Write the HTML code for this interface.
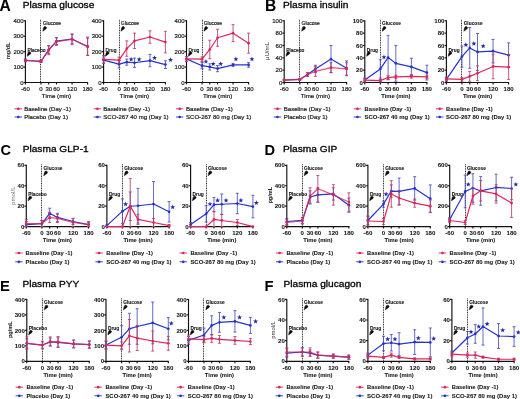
<!DOCTYPE html>
<html><head><meta charset="utf-8"><style>
html,body{margin:0;padding:0;background:#fff;}
svg{display:block;font-family:"Liberation Sans", sans-serif;filter:blur(0.42px);}
.ax{fill:none;stroke:#111;stroke-width:1.15}
.dl{stroke:#1a1a1a;stroke-width:0.9;stroke-dasharray:1 0.7}
.ar{fill:#0a0a0a;stroke:#0a0a0a;stroke-width:0.5;stroke-linejoin:round}
.tk{font-size:6.0px;fill:#1a1a1a;stroke:#1a1a1a;stroke-width:0.2}
.tm{font-size:6.2px;fill:#1a1a1a;stroke:#1a1a1a;stroke-width:0.2}
.gl{font-size:5px;fill:#111;stroke:#111;stroke-width:0.18}
.lg{font-size:6px;fill:#1a1a1a;stroke:#1a1a1a;stroke-width:0.2}
.b text{font-weight:bold;stroke-width:0.08}
.b .tk{font-size:6.1px}
.b .tm{font-size:5.8px}
.b .gl{font-size:4.8px}
.b .lg{font-size:5.8px}
.tt{font-size:10.15px;fill:#000;stroke:#000;stroke-width:0.32}
.lt{font-size:14.8px;font-weight:bold;fill:#000}
</style></head><body>
<svg width="520" height="399" viewBox="0 0 520 399">
<rect width="520" height="399" fill="#fff"/>
<text x="-0.5" y="10.6" class="lt" style="font-size:15.6px">A</text>
<text transform="translate(22.7,7.8) scale(1,0.94)" class="tt">Plasma glucose</text>
<text transform="translate(10,50.8) rotate(-90)" text-anchor="middle" font-size="5.7" font-weight="bold" fill="#222">mg/dL</text>
<g class="r">
<line x1="40.5" y1="19.8" x2="40.5" y2="82.5" class="dl"/>
<path d="M25.4 20.3V82.5H88.1" class="ax"/>
<path d="M23.6 82.5H25.4" class="ax"/>
<text x="23.5" y="84.65" class="tk" text-anchor="end">0</text>
<path d="M23.6 67.08H25.4" class="ax"/>
<text x="23.5" y="69.23" class="tk" text-anchor="end">100</text>
<path d="M23.6 51.65H25.4" class="ax"/>
<text x="23.5" y="53.8" class="tk" text-anchor="end">200</text>
<path d="M23.6 36.22H25.4" class="ax"/>
<text x="23.5" y="38.37" class="tk" text-anchor="end">300</text>
<path d="M23.6 20.8H25.4" class="ax"/>
<text x="23.5" y="22.95" class="tk" text-anchor="end">400</text>
<path d="M25.4 82.5V84.4" class="ax"/>
<text x="25.4" y="91.2" class="tk" text-anchor="middle">-60</text>
<path d="M40.95 82.5V84.4" class="ax"/>
<text x="40.95" y="91.2" class="tk" text-anchor="middle">0</text>
<path d="M48.72 82.5V84.4" class="ax"/>
<text x="48.72" y="91.2" class="tk" text-anchor="middle">30</text>
<path d="M56.5 82.5V84.4" class="ax"/>
<text x="56.5" y="91.2" class="tk" text-anchor="middle">60</text>
<path d="M72.05 82.5V84.4" class="ax"/>
<text x="72.05" y="91.2" class="tk" text-anchor="middle">120</text>
<path d="M87.6 82.5V84.4" class="ax"/>
<text x="87.6" y="91.2" class="tk" text-anchor="middle">180</text>
<text x="56.5" y="98.3" class="tm" text-anchor="middle">Time (min)</text>
<text x="42.65" y="25" class="gl">Glucose</text>
<polygon points="42.85,31.2 43.45,28.2 44.15,26.8 45.45,26.6 46.65,27.6 46.15,28.8" class="ar"/>
<text x="27.4" y="51.8" class="gl">Placebo</text>
<polygon points="27.2,56.3 27.8,53.3 28.5,51.9 29.8,51.7 31,52.7 30.5,53.9" class="ar"/>
<path d="M25.4 61.68V59.21M23.9 59.21h3M23.9 61.68h3" stroke="#4a4fb8" stroke-width="0.85" fill="none"/>
<path d="M40.95 62.45V60.6M39.45 60.6h3M39.45 62.45h3" stroke="#4a4fb8" stroke-width="0.85" fill="none"/>
<path d="M48.72 53.66V45.94M47.22 45.94h3M47.22 53.66h3" stroke="#4a4fb8" stroke-width="0.85" fill="none"/>
<path d="M56.5 44.55V37.77M55 37.77h3M55 44.55h3" stroke="#4a4fb8" stroke-width="0.85" fill="none"/>
<path d="M72.05 43.63V34.37M70.55 34.37h3M70.55 43.63h3" stroke="#4a4fb8" stroke-width="0.85" fill="none"/>
<path d="M87.6 55.2V38.23M86.1 38.23h3M86.1 55.2h3" stroke="#4a4fb8" stroke-width="0.85" fill="none"/>
<polyline points="25.4,60.44 40.95,61.52 48.72,49.8 56.5,41.16 72.05,39 87.6,46.71" fill="none" stroke="#2433d0" stroke-width="1.2" stroke-linejoin="round"/>
<circle cx="25.4" cy="60.44" r="1.35" fill="#2433d0"/>
<circle cx="40.95" cy="61.52" r="1.35" fill="#2433d0"/>
<circle cx="48.72" cy="49.8" r="1.35" fill="#2433d0"/>
<circle cx="56.5" cy="41.16" r="1.35" fill="#2433d0"/>
<circle cx="72.05" cy="39" r="1.35" fill="#2433d0"/>
<circle cx="87.6" cy="46.71" r="1.35" fill="#2433d0"/>
<path d="M25.4 61.68V59.21M23.9 59.21h3M23.9 61.68h3" stroke="#b83d66" stroke-width="0.85" fill="none"/>
<path d="M40.95 62.14V60.29M39.45 60.29h3M39.45 62.14h3" stroke="#b83d66" stroke-width="0.85" fill="none"/>
<path d="M48.72 54.73V45.48M47.22 45.48h3M47.22 54.73h3" stroke="#b83d66" stroke-width="0.85" fill="none"/>
<path d="M56.5 45.48V37.77M55 37.77h3M55 45.48h3" stroke="#b83d66" stroke-width="0.85" fill="none"/>
<path d="M72.05 44.71V33.91M70.55 33.91h3M70.55 44.71h3" stroke="#b83d66" stroke-width="0.85" fill="none"/>
<path d="M87.6 55.51V37M86.1 37h3M86.1 55.51h3" stroke="#b83d66" stroke-width="0.85" fill="none"/>
<polyline points="25.4,60.44 40.95,61.21 48.72,50.11 56.5,41.62 72.05,39.31 87.6,46.25" fill="none" stroke="#e0245a" stroke-width="1.2" stroke-linejoin="round" stroke-opacity="0.8"/>
<circle cx="25.4" cy="60.44" r="1.35" fill="#e0245a"/>
<circle cx="40.95" cy="61.21" r="1.35" fill="#e0245a"/>
<circle cx="48.72" cy="50.11" r="1.35" fill="#e0245a"/>
<circle cx="56.5" cy="41.62" r="1.35" fill="#e0245a"/>
<circle cx="72.05" cy="39.31" r="1.35" fill="#e0245a"/>
<circle cx="87.6" cy="46.25" r="1.35" fill="#e0245a"/>
<path d="M14.6 108.8h7.4" stroke="#e0245a" stroke-width="0.9"/>
<circle cx="18.3" cy="108.8" r="1.35" fill="#e0245a"/>
<text x="24.2" y="110.9" class="lg" textLength="46.8" lengthAdjust="spacingAndGlyphs">Baseline (Day -1)</text>
<path d="M14.6 117h7.4" stroke="#2433d0" stroke-width="0.9"/>
<circle cx="18.3" cy="117" r="1.35" fill="#2433d0"/>
<text x="24.2" y="119.1" class="lg" textLength="43.8" lengthAdjust="spacingAndGlyphs">Placebo (Day 1)</text>
</g>
<g class="r">
<line x1="119.5" y1="19.8" x2="119.5" y2="82.5" class="dl"/>
<path d="M103.6 20.3V82.5H165.9" class="ax"/>
<path d="M101.8 82.5H103.6" class="ax"/>
<text x="101.7" y="84.65" class="tk" text-anchor="end">0</text>
<path d="M101.8 67.08H103.6" class="ax"/>
<text x="101.7" y="69.23" class="tk" text-anchor="end">100</text>
<path d="M101.8 51.65H103.6" class="ax"/>
<text x="101.7" y="53.8" class="tk" text-anchor="end">200</text>
<path d="M101.8 36.22H103.6" class="ax"/>
<text x="101.7" y="38.37" class="tk" text-anchor="end">300</text>
<path d="M101.8 20.8H103.6" class="ax"/>
<text x="101.7" y="22.95" class="tk" text-anchor="end">400</text>
<path d="M103.6 82.5V84.4" class="ax"/>
<text x="103.6" y="91.2" class="tk" text-anchor="middle">-60</text>
<path d="M119.05 82.5V84.4" class="ax"/>
<text x="119.05" y="91.2" class="tk" text-anchor="middle">0</text>
<path d="M126.78 82.5V84.4" class="ax"/>
<text x="126.78" y="91.2" class="tk" text-anchor="middle">30</text>
<path d="M134.5 82.5V84.4" class="ax"/>
<text x="134.5" y="91.2" class="tk" text-anchor="middle">60</text>
<path d="M149.95 82.5V84.4" class="ax"/>
<text x="149.95" y="91.2" class="tk" text-anchor="middle">120</text>
<path d="M165.4 82.5V84.4" class="ax"/>
<text x="165.4" y="91.2" class="tk" text-anchor="middle">180</text>
<text x="134.5" y="98.3" class="tm" text-anchor="middle">Time (min)</text>
<text x="120.75" y="25" class="gl">Glucose</text>
<polygon points="120.95,31.2 121.55,28.2 122.25,26.8 123.55,26.6 124.75,27.6 124.25,28.8" class="ar"/>
<text x="105.6" y="51.8" class="gl">Drug</text>
<polygon points="105.4,56.3 106,53.3 106.7,51.9 108,51.7 109.2,52.7 108.7,53.9" class="ar"/>
<path d="M103.6 63.22V57.05M102.1 57.05h3M102.1 63.22h3" stroke="#4a4fb8" stroke-width="0.85" fill="none"/>
<path d="M119.05 68V60.29M117.55 60.29h3M117.55 68h3" stroke="#4a4fb8" stroke-width="0.85" fill="none"/>
<path d="M126.78 65.22V59.05M125.28 59.05h3M125.28 65.22h3" stroke="#4a4fb8" stroke-width="0.85" fill="none"/>
<path d="M134.5 67.38V58.13M133 58.13h3M133 67.38h3" stroke="#4a4fb8" stroke-width="0.85" fill="none"/>
<path d="M149.95 66.77V54.43M148.45 54.43h3M148.45 66.77h3" stroke="#4a4fb8" stroke-width="0.85" fill="none"/>
<path d="M165.4 68.46V60.75M163.9 60.75h3M163.9 68.46h3" stroke="#4a4fb8" stroke-width="0.85" fill="none"/>
<polyline points="103.6,60.13 119.05,64.14 126.78,62.14 134.5,62.76 149.95,60.6 165.4,64.61" fill="none" stroke="#2433d0" stroke-width="1.2" stroke-linejoin="round"/>
<circle cx="103.6" cy="60.13" r="1.35" fill="#2433d0"/>
<circle cx="119.05" cy="64.14" r="1.35" fill="#2433d0"/>
<circle cx="126.78" cy="62.14" r="1.35" fill="#2433d0"/>
<circle cx="134.5" cy="62.76" r="1.35" fill="#2433d0"/>
<circle cx="149.95" cy="60.6" r="1.35" fill="#2433d0"/>
<circle cx="165.4" cy="64.61" r="1.35" fill="#2433d0"/>
<path d="M103.6 63.22V55.51M102.1 55.51h3M102.1 63.22h3" stroke="#b83d66" stroke-width="0.85" fill="none"/>
<path d="M119.05 63.22V57.05M117.55 57.05h3M117.55 63.22h3" stroke="#b83d66" stroke-width="0.85" fill="none"/>
<path d="M126.78 56.28V40.85M125.28 40.85h3M125.28 56.28h3" stroke="#b83d66" stroke-width="0.85" fill="none"/>
<path d="M134.5 48.56V33.14M133 33.14h3M133 48.56h3" stroke="#b83d66" stroke-width="0.85" fill="none"/>
<path d="M149.95 43.17V30.83M148.45 30.83h3M148.45 43.17h3" stroke="#b83d66" stroke-width="0.85" fill="none"/>
<path d="M165.4 52.88V31.29M163.9 31.29h3M163.9 52.88h3" stroke="#b83d66" stroke-width="0.85" fill="none"/>
<polyline points="103.6,59.36 119.05,60.13 126.78,48.56 134.5,40.85 149.95,37 165.4,42.09" fill="none" stroke="#e0245a" stroke-width="1.2" stroke-linejoin="round"/>
<circle cx="103.6" cy="59.36" r="1.35" fill="#e0245a"/>
<circle cx="119.05" cy="60.13" r="1.35" fill="#e0245a"/>
<circle cx="126.78" cy="48.56" r="1.35" fill="#e0245a"/>
<circle cx="134.5" cy="40.85" r="1.35" fill="#e0245a"/>
<circle cx="149.95" cy="37" r="1.35" fill="#e0245a"/>
<circle cx="165.4" cy="42.09" r="1.35" fill="#e0245a"/>
<polygon points="131.15,56.76 131.79,58.48 133.63,58.56 132.19,59.7 132.68,61.47 131.15,60.45 129.62,61.47 130.11,59.7 128.68,58.56 130.51,58.48" fill="#2228a8"/>
<polygon points="139.13,56.76 139.78,58.48 141.61,58.56 140.17,59.7 140.66,61.47 139.13,60.45 137.61,61.47 138.1,59.7 136.66,58.56 138.49,58.48" fill="#2228a8"/>
<polygon points="154.59,55.22 155.23,56.94 157.06,57.02 155.62,58.16 156.11,59.92 154.59,58.91 153.06,59.92 153.55,58.16 152.11,57.02 153.94,56.94" fill="#2228a8"/>
<polygon points="170.55,57.23 171.19,58.94 173.02,59.02 171.59,60.16 172.08,61.93 170.55,60.92 169.02,61.93 169.51,60.16 168.08,59.02 169.91,58.94" fill="#2228a8"/>
<path d="M93.7 108.8h7.4" stroke="#e0245a" stroke-width="0.9"/>
<circle cx="97.4" cy="108.8" r="1.35" fill="#e0245a"/>
<text x="103.3" y="110.9" class="lg" textLength="46.8" lengthAdjust="spacingAndGlyphs">Baseline (Day -1)</text>
<path d="M93.7 117h7.4" stroke="#2433d0" stroke-width="0.9"/>
<circle cx="97.4" cy="117" r="1.35" fill="#2433d0"/>
<text x="103.3" y="119.1" class="lg" textLength="65.3" lengthAdjust="spacingAndGlyphs">SCO-267 40 mg (Day 1)</text>
</g>
<g class="r">
<line x1="202.5" y1="19.8" x2="202.5" y2="82.5" class="dl"/>
<path d="M186.5 20.3V82.5H249.1" class="ax"/>
<path d="M184.7 82.5H186.5" class="ax"/>
<text x="184.6" y="84.65" class="tk" text-anchor="end">0</text>
<path d="M184.7 67.08H186.5" class="ax"/>
<text x="184.6" y="69.23" class="tk" text-anchor="end">100</text>
<path d="M184.7 51.65H186.5" class="ax"/>
<text x="184.6" y="53.8" class="tk" text-anchor="end">200</text>
<path d="M184.7 36.22H186.5" class="ax"/>
<text x="184.6" y="38.37" class="tk" text-anchor="end">300</text>
<path d="M184.7 20.8H186.5" class="ax"/>
<text x="184.6" y="22.95" class="tk" text-anchor="end">400</text>
<path d="M186.5 82.5V84.4" class="ax"/>
<text x="186.5" y="91.2" class="tk" text-anchor="middle">-60</text>
<path d="M202.03 82.5V84.4" class="ax"/>
<text x="202.03" y="91.2" class="tk" text-anchor="middle">0</text>
<path d="M209.79 82.5V84.4" class="ax"/>
<text x="209.79" y="91.2" class="tk" text-anchor="middle">30</text>
<path d="M217.55 82.5V84.4" class="ax"/>
<text x="217.55" y="91.2" class="tk" text-anchor="middle">60</text>
<path d="M233.07 82.5V84.4" class="ax"/>
<text x="233.07" y="91.2" class="tk" text-anchor="middle">120</text>
<path d="M248.6 82.5V84.4" class="ax"/>
<text x="248.6" y="91.2" class="tk" text-anchor="middle">180</text>
<text x="217.55" y="98.3" class="tm" text-anchor="middle">Time (min)</text>
<text x="203.72" y="25" class="gl">Glucose</text>
<polygon points="203.93,31.2 204.53,28.2 205.23,26.8 206.53,26.6 207.73,27.6 207.23,28.8" class="ar"/>
<text x="188.5" y="51.8" class="gl">Drug</text>
<polygon points="188.3,56.3 188.9,53.3 189.6,51.9 190.9,51.7 192.1,52.7 191.6,53.9" class="ar"/>
<path d="M186.5 61.21V56.59M185 56.59h3M185 61.21h3" stroke="#4a4fb8" stroke-width="0.85" fill="none"/>
<path d="M202.03 68.77V62.6M200.53 62.6h3M200.53 68.77h3" stroke="#4a4fb8" stroke-width="0.85" fill="none"/>
<path d="M209.79 70.01V63.84M208.29 63.84h3M208.29 70.01h3" stroke="#4a4fb8" stroke-width="0.85" fill="none"/>
<path d="M217.55 71.7V65.53M216.05 65.53h3M216.05 71.7h3" stroke="#4a4fb8" stroke-width="0.85" fill="none"/>
<path d="M233.07 66.46V63.37M231.57 63.37h3M231.57 66.46h3" stroke="#4a4fb8" stroke-width="0.85" fill="none"/>
<path d="M248.6 67.23V62.6M247.1 62.6h3M247.1 67.23h3" stroke="#4a4fb8" stroke-width="0.85" fill="none"/>
<polyline points="186.5,58.9 202.03,65.69 209.79,66.92 217.55,68.62 233.07,64.92 248.6,64.92" fill="none" stroke="#2433d0" stroke-width="1.2" stroke-linejoin="round"/>
<circle cx="186.5" cy="58.9" r="1.35" fill="#2433d0"/>
<circle cx="202.03" cy="65.69" r="1.35" fill="#2433d0"/>
<circle cx="209.79" cy="66.92" r="1.35" fill="#2433d0"/>
<circle cx="217.55" cy="68.62" r="1.35" fill="#2433d0"/>
<circle cx="233.07" cy="64.92" r="1.35" fill="#2433d0"/>
<circle cx="248.6" cy="64.92" r="1.35" fill="#2433d0"/>
<path d="M186.5 61.21V56.59M185 56.59h3M185 61.21h3" stroke="#b83d66" stroke-width="0.85" fill="none"/>
<path d="M202.03 61.52V56.89M200.53 56.89h3M200.53 61.52h3" stroke="#b83d66" stroke-width="0.85" fill="none"/>
<path d="M209.79 58.75V40.24M208.29 40.24h3M208.29 58.75h3" stroke="#b83d66" stroke-width="0.85" fill="none"/>
<path d="M217.55 46.25V29.28M216.05 29.28h3M216.05 46.25h3" stroke="#b83d66" stroke-width="0.85" fill="none"/>
<path d="M233.07 41.62V24.66M231.57 24.66h3M231.57 41.62h3" stroke="#b83d66" stroke-width="0.85" fill="none"/>
<path d="M248.6 53.19V33.14M247.1 33.14h3M247.1 53.19h3" stroke="#b83d66" stroke-width="0.85" fill="none"/>
<polyline points="186.5,58.9 202.03,59.21 209.79,49.49 217.55,37.77 233.07,33.14 248.6,43.17" fill="none" stroke="#e0245a" stroke-width="1.2" stroke-linejoin="round"/>
<circle cx="186.5" cy="58.9" r="1.35" fill="#e0245a"/>
<circle cx="202.03" cy="59.21" r="1.35" fill="#e0245a"/>
<circle cx="209.79" cy="49.49" r="1.35" fill="#e0245a"/>
<circle cx="217.55" cy="37.77" r="1.35" fill="#e0245a"/>
<circle cx="233.07" cy="33.14" r="1.35" fill="#e0245a"/>
<circle cx="248.6" cy="43.17" r="1.35" fill="#e0245a"/>
<polygon points="205.91,58.92 206.55,60.64 208.38,60.72 206.94,61.86 207.43,63.63 205.91,62.61 204.38,63.63 204.87,61.86 203.43,60.72 205.26,60.64" fill="#2228a8"/>
<polygon points="213.15,61.39 213.79,63.11 215.62,63.19 214.19,64.33 214.68,66.09 213.15,65.08 211.62,66.09 212.11,64.33 210.68,63.19 212.51,63.11" fill="#2228a8"/>
<polygon points="220.66,61.39 221.3,63.11 223.13,63.19 221.69,64.33 222.18,66.09 220.66,65.08 219.13,66.09 219.62,64.33 218.18,63.19 220.01,63.11" fill="#2228a8"/>
<polygon points="235.92,56.61 236.56,58.32 238.39,58.4 236.96,59.55 237.45,61.31 235.92,60.3 234.39,61.31 234.88,59.55 233.45,58.4 235.28,58.32" fill="#2228a8"/>
<polygon points="251.96,56.61 252.61,58.32 254.44,58.4 253,59.55 253.49,61.31 251.96,60.3 250.44,61.31 250.93,59.55 249.49,58.4 251.32,58.32" fill="#2228a8"/>
<path d="M176 108.8h7.4" stroke="#e0245a" stroke-width="0.9"/>
<circle cx="179.7" cy="108.8" r="1.35" fill="#e0245a"/>
<text x="186" y="110.9" class="lg" textLength="46.8" lengthAdjust="spacingAndGlyphs">Baseline (Day -1)</text>
<path d="M176 117h7.4" stroke="#2433d0" stroke-width="0.9"/>
<circle cx="179.7" cy="117" r="1.35" fill="#2433d0"/>
<text x="186" y="119.1" class="lg" textLength="65.3" lengthAdjust="spacingAndGlyphs">SCO-267 80 mg (Day 1)</text>
</g>
<text x="264.9" y="10.6" class="lt" style="font-size:15.6px">B</text>
<text transform="translate(283.1,7.8) scale(1,0.94)" class="tt">Plasma insulin</text>
<text transform="translate(269.1,51) rotate(-90)" text-anchor="middle" font-size="6.2"  fill="#333">μU/mL</text>
<g class="r">
<line x1="299.5" y1="19.8" x2="299.5" y2="82.5" class="dl"/>
<path d="M284.2 20.3V82.5H347.1" class="ax"/>
<path d="M282.4 82.5H284.2" class="ax"/>
<text x="282.3" y="84.65" class="tk" text-anchor="end">0</text>
<path d="M282.4 70.16H284.2" class="ax"/>
<text x="282.3" y="72.31" class="tk" text-anchor="end">20</text>
<path d="M282.4 57.82H284.2" class="ax"/>
<text x="282.3" y="59.97" class="tk" text-anchor="end">40</text>
<path d="M282.4 45.48H284.2" class="ax"/>
<text x="282.3" y="47.63" class="tk" text-anchor="end">60</text>
<path d="M282.4 33.14H284.2" class="ax"/>
<text x="282.3" y="35.29" class="tk" text-anchor="end">80</text>
<path d="M282.4 20.8H284.2" class="ax"/>
<text x="282.3" y="22.95" class="tk" text-anchor="end">100</text>
<path d="M284.2 82.5V84.4" class="ax"/>
<text x="284.2" y="91.2" class="tk" text-anchor="middle">-60</text>
<path d="M299.8 82.5V84.4" class="ax"/>
<text x="299.8" y="91.2" class="tk" text-anchor="middle">0</text>
<path d="M307.6 82.5V84.4" class="ax"/>
<text x="307.6" y="91.2" class="tk" text-anchor="middle">30</text>
<path d="M315.4 82.5V84.4" class="ax"/>
<text x="315.4" y="91.2" class="tk" text-anchor="middle">60</text>
<path d="M331 82.5V84.4" class="ax"/>
<text x="331" y="91.2" class="tk" text-anchor="middle">120</text>
<path d="M346.6 82.5V84.4" class="ax"/>
<text x="346.6" y="91.2" class="tk" text-anchor="middle">180</text>
<text x="315.4" y="98.3" class="tm" text-anchor="middle">Time (min)</text>
<text x="301.5" y="25" class="gl">Glucose</text>
<polygon points="301.7,31.2 302.3,28.2 303,26.8 304.3,26.6 305.5,27.6 305,28.8" class="ar"/>
<text x="286.2" y="51.8" class="gl">Placebo</text>
<polygon points="286,56.3 286.6,53.3 287.3,51.9 288.6,51.7 289.8,52.7 289.3,53.9" class="ar"/>
<path d="M284.2 80.65V79.42M282.7 79.42h3M282.7 80.65h3" stroke="#4a4fb8" stroke-width="0.85" fill="none"/>
<path d="M299.8 80.03V78.8M298.3 78.8h3M298.3 80.03h3" stroke="#4a4fb8" stroke-width="0.85" fill="none"/>
<path d="M307.6 76.33V72.63M306.1 72.63h3M306.1 76.33h3" stroke="#4a4fb8" stroke-width="0.85" fill="none"/>
<path d="M315.4 72.63V65.22M313.9 65.22h3M313.9 72.63h3" stroke="#4a4fb8" stroke-width="0.85" fill="none"/>
<path d="M331 72.63V45.48M329.5 45.48h3M329.5 72.63h3" stroke="#4a4fb8" stroke-width="0.85" fill="none"/>
<path d="M346.6 75.71V60.91M345.1 60.91h3M345.1 75.71h3" stroke="#4a4fb8" stroke-width="0.85" fill="none"/>
<polyline points="284.2,80.03 299.8,79.42 307.6,74.48 315.4,68.93 331,59.05 346.6,68.31" fill="none" stroke="#2433d0" stroke-width="1.2" stroke-linejoin="round"/>
<circle cx="284.2" cy="80.03" r="1.35" fill="#2433d0"/>
<circle cx="299.8" cy="79.42" r="1.35" fill="#2433d0"/>
<circle cx="307.6" cy="74.48" r="1.35" fill="#2433d0"/>
<circle cx="315.4" cy="68.93" r="1.35" fill="#2433d0"/>
<circle cx="331" cy="59.05" r="1.35" fill="#2433d0"/>
<circle cx="346.6" cy="68.31" r="1.35" fill="#2433d0"/>
<path d="M284.2 80.65V79.42M282.7 79.42h3M282.7 80.65h3" stroke="#b83d66" stroke-width="0.85" fill="none"/>
<path d="M299.8 80.03V78.8M298.3 78.8h3M298.3 80.03h3" stroke="#b83d66" stroke-width="0.85" fill="none"/>
<path d="M307.6 76.33V72.63M306.1 72.63h3M306.1 76.33h3" stroke="#b83d66" stroke-width="0.85" fill="none"/>
<path d="M315.4 76.33V66.46M313.9 66.46h3M313.9 76.33h3" stroke="#b83d66" stroke-width="0.85" fill="none"/>
<path d="M331 72.63V62.76M329.5 62.76h3M329.5 72.63h3" stroke="#b83d66" stroke-width="0.85" fill="none"/>
<path d="M346.6 75.1V62.76M345.1 62.76h3M345.1 75.1h3" stroke="#b83d66" stroke-width="0.85" fill="none"/>
<polyline points="284.2,80.03 299.8,79.42 307.6,74.48 315.4,71.39 331,67.69 346.6,68.93" fill="none" stroke="#e0245a" stroke-width="1.2" stroke-linejoin="round" stroke-opacity="0.8"/>
<circle cx="284.2" cy="80.03" r="1.35" fill="#e0245a"/>
<circle cx="299.8" cy="79.42" r="1.35" fill="#e0245a"/>
<circle cx="307.6" cy="74.48" r="1.35" fill="#e0245a"/>
<circle cx="315.4" cy="71.39" r="1.35" fill="#e0245a"/>
<circle cx="331" cy="67.69" r="1.35" fill="#e0245a"/>
<circle cx="346.6" cy="68.93" r="1.35" fill="#e0245a"/>
<path d="M273.8 108.8h7.4" stroke="#e0245a" stroke-width="0.9"/>
<circle cx="277.5" cy="108.8" r="1.35" fill="#e0245a"/>
<text x="283.8" y="110.9" class="lg" textLength="46.8" lengthAdjust="spacingAndGlyphs">Baseline (Day -1)</text>
<path d="M273.8 117h7.4" stroke="#2433d0" stroke-width="0.9"/>
<circle cx="277.5" cy="117" r="1.35" fill="#2433d0"/>
<text x="283.8" y="119.1" class="lg" textLength="43.8" lengthAdjust="spacingAndGlyphs">Placebo (Day 1)</text>
</g>
<g class="b">
<line x1="380.5" y1="19.8" x2="380.5" y2="82.5" class="dl"/>
<path d="M364.8 20.3V82.5H427.4" class="ax"/>
<path d="M363 82.5H364.8" class="ax"/>
<text x="362.9" y="84.65" class="tk" text-anchor="end">0</text>
<path d="M363 70.16H364.8" class="ax"/>
<text x="362.9" y="72.31" class="tk" text-anchor="end">20</text>
<path d="M363 57.82H364.8" class="ax"/>
<text x="362.9" y="59.97" class="tk" text-anchor="end">40</text>
<path d="M363 45.48H364.8" class="ax"/>
<text x="362.9" y="47.63" class="tk" text-anchor="end">60</text>
<path d="M363 33.14H364.8" class="ax"/>
<text x="362.9" y="35.29" class="tk" text-anchor="end">80</text>
<path d="M363 20.8H364.8" class="ax"/>
<text x="362.9" y="22.95" class="tk" text-anchor="end">100</text>
<path d="M364.8 82.5V84.4" class="ax"/>
<text x="364.8" y="91.2" class="tk" text-anchor="middle">-60</text>
<path d="M380.32 82.5V84.4" class="ax"/>
<text x="380.32" y="91.2" class="tk" text-anchor="middle">0</text>
<path d="M388.09 82.5V84.4" class="ax"/>
<text x="388.09" y="91.2" class="tk" text-anchor="middle">30</text>
<path d="M395.85 82.5V84.4" class="ax"/>
<text x="395.85" y="91.2" class="tk" text-anchor="middle">60</text>
<path d="M411.38 82.5V84.4" class="ax"/>
<text x="411.38" y="91.2" class="tk" text-anchor="middle">120</text>
<path d="M426.9 82.5V84.4" class="ax"/>
<text x="426.9" y="91.2" class="tk" text-anchor="middle">180</text>
<text x="395.85" y="98.3" class="tm" text-anchor="middle">Time (min)</text>
<text x="382.02" y="25" class="gl">Glucose</text>
<polygon points="382.22,31.2 382.82,28.2 383.52,26.8 384.82,26.6 386.02,27.6 385.52,28.8" class="ar"/>
<text x="366.8" y="51.8" class="gl">Drug</text>
<polygon points="366.6,56.3 367.2,53.3 367.9,51.9 369.2,51.7 370.4,52.7 369.9,53.9" class="ar"/>
<path d="M364.8 81.88V78.18M363.3 78.18h3M363.3 81.88h3" stroke="#4a4fb8" stroke-width="0.85" fill="none"/>
<path d="M380.32 78.18V59.67M378.82 59.67h3M378.82 78.18h3" stroke="#4a4fb8" stroke-width="0.85" fill="none"/>
<path d="M388.09 79.79V35.36M386.59 35.36h3M386.59 79.79h3" stroke="#4a4fb8" stroke-width="0.85" fill="none"/>
<path d="M395.85 81.27V45.48M394.35 45.48h3M394.35 81.27h3" stroke="#4a4fb8" stroke-width="0.85" fill="none"/>
<path d="M411.38 75.53V58.25M409.88 58.25h3M409.88 75.53h3" stroke="#4a4fb8" stroke-width="0.85" fill="none"/>
<path d="M426.9 80.03V65.22M425.4 65.22h3M425.4 80.03h3" stroke="#4a4fb8" stroke-width="0.85" fill="none"/>
<polyline points="364.8,80.03 380.32,68.93 388.09,57.57 395.85,63.37 411.38,66.89 426.9,72.63" fill="none" stroke="#2433d0" stroke-width="1.2" stroke-linejoin="round"/>
<circle cx="364.8" cy="80.03" r="1.35" fill="#2433d0"/>
<circle cx="380.32" cy="68.93" r="1.35" fill="#2433d0"/>
<circle cx="388.09" cy="57.57" r="1.35" fill="#2433d0"/>
<circle cx="395.85" cy="63.37" r="1.35" fill="#2433d0"/>
<circle cx="411.38" cy="66.89" r="1.35" fill="#2433d0"/>
<circle cx="426.9" cy="72.63" r="1.35" fill="#2433d0"/>
<path d="M364.8 81.88V78.18M363.3 78.18h3M363.3 81.88h3" stroke="#b83d66" stroke-width="0.85" fill="none"/>
<path d="M380.32 81.88V79.42M378.82 79.42h3M378.82 81.88h3" stroke="#b83d66" stroke-width="0.85" fill="none"/>
<path d="M388.09 79.42V75.71M386.59 75.71h3M386.59 79.42h3" stroke="#b83d66" stroke-width="0.85" fill="none"/>
<path d="M395.85 78.8V75.1M394.35 75.1h3M394.35 78.8h3" stroke="#b83d66" stroke-width="0.85" fill="none"/>
<path d="M411.38 78.18V74.48M409.88 74.48h3M409.88 78.18h3" stroke="#b83d66" stroke-width="0.85" fill="none"/>
<path d="M426.9 78.8V75.1M425.4 75.1h3M425.4 78.8h3" stroke="#b83d66" stroke-width="0.85" fill="none"/>
<polyline points="364.8,80.03 380.32,80.65 388.09,77.56 395.85,76.95 411.38,76.33 426.9,76.95" fill="none" stroke="#e0245a" stroke-width="1.2" stroke-linejoin="round"/>
<circle cx="364.8" cy="80.03" r="1.35" fill="#e0245a"/>
<circle cx="380.32" cy="80.65" r="1.35" fill="#e0245a"/>
<circle cx="388.09" cy="77.56" r="1.35" fill="#e0245a"/>
<circle cx="395.85" cy="76.95" r="1.35" fill="#e0245a"/>
<circle cx="411.38" cy="76.33" r="1.35" fill="#e0245a"/>
<circle cx="426.9" cy="76.95" r="1.35" fill="#e0245a"/>
<polygon points="383.95,54.6 384.59,56.32 386.42,56.4 384.99,57.54 385.48,59.31 383.95,58.3 382.42,59.31 382.91,57.54 381.47,56.4 383.31,56.32" fill="#2228a8"/>
<path d="M353.7 108.8h7.4" stroke="#e0245a" stroke-width="0.9"/>
<circle cx="357.4" cy="108.8" r="1.35" fill="#e0245a"/>
<text x="364.5" y="110.9" class="lg" textLength="46.8" lengthAdjust="spacingAndGlyphs">Baseline (Day -1)</text>
<path d="M353.7 117h7.4" stroke="#2433d0" stroke-width="0.9"/>
<circle cx="357.4" cy="117" r="1.35" fill="#2433d0"/>
<text x="364.5" y="119.1" class="lg" textLength="65.3" lengthAdjust="spacingAndGlyphs">SCO-267 40 mg (Day 1)</text>
</g>
<g class="b">
<line x1="461.5" y1="19.8" x2="461.5" y2="82.5" class="dl"/>
<path d="M446.4 20.3V82.5H509.1" class="ax"/>
<path d="M444.6 82.5H446.4" class="ax"/>
<text x="444.5" y="84.65" class="tk" text-anchor="end">0</text>
<path d="M444.6 70.16H446.4" class="ax"/>
<text x="444.5" y="72.31" class="tk" text-anchor="end">20</text>
<path d="M444.6 57.82H446.4" class="ax"/>
<text x="444.5" y="59.97" class="tk" text-anchor="end">40</text>
<path d="M444.6 45.48H446.4" class="ax"/>
<text x="444.5" y="47.63" class="tk" text-anchor="end">60</text>
<path d="M444.6 33.14H446.4" class="ax"/>
<text x="444.5" y="35.29" class="tk" text-anchor="end">80</text>
<path d="M444.6 20.8H446.4" class="ax"/>
<text x="444.5" y="22.95" class="tk" text-anchor="end">100</text>
<path d="M446.4 82.5V84.4" class="ax"/>
<text x="446.4" y="91.2" class="tk" text-anchor="middle">-60</text>
<path d="M461.95 82.5V84.4" class="ax"/>
<text x="461.95" y="91.2" class="tk" text-anchor="middle">0</text>
<path d="M469.73 82.5V84.4" class="ax"/>
<text x="469.73" y="91.2" class="tk" text-anchor="middle">30</text>
<path d="M477.5 82.5V84.4" class="ax"/>
<text x="477.5" y="91.2" class="tk" text-anchor="middle">60</text>
<path d="M493.05 82.5V84.4" class="ax"/>
<text x="493.05" y="91.2" class="tk" text-anchor="middle">120</text>
<path d="M508.6 82.5V84.4" class="ax"/>
<text x="508.6" y="91.2" class="tk" text-anchor="middle">180</text>
<text x="477.5" y="98.3" class="tm" text-anchor="middle">Time (min)</text>
<text x="463.65" y="25" class="gl">Glucose</text>
<polygon points="463.85,31.2 464.45,28.2 465.15,26.8 466.45,26.6 467.65,27.6 467.15,28.8" class="ar"/>
<text x="448.4" y="51.8" class="gl">Drug</text>
<polygon points="448.2,56.3 448.8,53.3 449.5,51.9 450.8,51.7 452,52.7 451.5,53.9" class="ar"/>
<path d="M446.4 81.27V77.56M444.9 77.56h3M444.9 81.27h3" stroke="#4a4fb8" stroke-width="0.85" fill="none"/>
<path d="M461.95 67.08V46.1M460.45 46.1h3M460.45 67.08h3" stroke="#4a4fb8" stroke-width="0.85" fill="none"/>
<path d="M469.73 68.31V27.59M468.23 27.59h3M468.23 68.31h3" stroke="#4a4fb8" stroke-width="0.85" fill="none"/>
<path d="M477.5 70.47V33.45M476 33.45h3M476 70.47h3" stroke="#4a4fb8" stroke-width="0.85" fill="none"/>
<path d="M493.05 62.88V39.43M491.55 39.43h3M491.55 62.88h3" stroke="#4a4fb8" stroke-width="0.85" fill="none"/>
<path d="M508.6 67.51V42.83M507.1 42.83h3M507.1 67.51h3" stroke="#4a4fb8" stroke-width="0.85" fill="none"/>
<polyline points="446.4,79.42 461.95,56.59 469.73,47.95 477.5,51.96 493.05,51.16 508.6,55.17" fill="none" stroke="#2433d0" stroke-width="1.2" stroke-linejoin="round"/>
<circle cx="446.4" cy="79.42" r="1.35" fill="#2433d0"/>
<circle cx="461.95" cy="56.59" r="1.35" fill="#2433d0"/>
<circle cx="469.73" cy="47.95" r="1.35" fill="#2433d0"/>
<circle cx="477.5" cy="51.96" r="1.35" fill="#2433d0"/>
<circle cx="493.05" cy="51.16" r="1.35" fill="#2433d0"/>
<circle cx="508.6" cy="55.17" r="1.35" fill="#2433d0"/>
<path d="M446.4 80.65V76.95M444.9 76.95h3M444.9 80.65h3" stroke="#b83d66" stroke-width="0.85" fill="none"/>
<path d="M461.95 81.27V77.56M460.45 77.56h3M460.45 81.27h3" stroke="#b83d66" stroke-width="0.85" fill="none"/>
<path d="M469.73 81.27V71.39M468.23 71.39h3M468.23 81.27h3" stroke="#b83d66" stroke-width="0.85" fill="none"/>
<path d="M477.5 80.65V65.84M476 65.84h3M476 80.65h3" stroke="#b83d66" stroke-width="0.85" fill="none"/>
<path d="M493.05 78.8V54.12M491.55 54.12h3M491.55 78.8h3" stroke="#b83d66" stroke-width="0.85" fill="none"/>
<path d="M508.6 79.42V54.73M507.1 54.73h3M507.1 79.42h3" stroke="#b83d66" stroke-width="0.85" fill="none"/>
<polyline points="446.4,78.8 461.95,79.42 469.73,76.33 477.5,73.25 493.05,66.46 508.6,67.08" fill="none" stroke="#e0245a" stroke-width="1.2" stroke-linejoin="round"/>
<circle cx="446.4" cy="78.8" r="1.35" fill="#e0245a"/>
<circle cx="461.95" cy="79.42" r="1.35" fill="#e0245a"/>
<circle cx="469.73" cy="76.33" r="1.35" fill="#e0245a"/>
<circle cx="477.5" cy="73.25" r="1.35" fill="#e0245a"/>
<circle cx="493.05" cy="66.46" r="1.35" fill="#e0245a"/>
<circle cx="508.6" cy="67.08" r="1.35" fill="#e0245a"/>
<polygon points="465.84,42.26 466.48,43.98 468.31,44.06 466.88,45.2 467.37,46.97 465.84,45.95 464.31,46.97 464.8,45.2 463.36,44.06 465.2,43.98" fill="#2228a8"/>
<polygon points="473.87,41.03 474.51,42.75 476.34,42.83 474.91,43.97 475.4,45.73 473.87,44.72 472.34,45.73 472.83,43.97 471.4,42.83 473.23,42.75" fill="#2228a8"/>
<polygon points="483.2,43.5 483.84,45.21 485.67,45.29 484.24,46.43 484.73,48.2 483.2,47.19 481.67,48.2 482.16,46.43 480.73,45.29 482.56,45.21" fill="#2228a8"/>
<path d="M436 108.8h7.4" stroke="#e0245a" stroke-width="0.9"/>
<circle cx="439.7" cy="108.8" r="1.35" fill="#e0245a"/>
<text x="446" y="110.9" class="lg" textLength="46.8" lengthAdjust="spacingAndGlyphs">Baseline (Day -1)</text>
<path d="M436 117h7.4" stroke="#2433d0" stroke-width="0.9"/>
<circle cx="439.7" cy="117" r="1.35" fill="#2433d0"/>
<text x="446" y="119.1" class="lg" textLength="65.3" lengthAdjust="spacingAndGlyphs">SCO-267 80 mg (Day 1)</text>
</g>
<text x="0.4" y="155.2" class="lt" style="font-size:14.6px">C</text>
<text transform="translate(22.7,152.1) scale(1,0.94)" class="tt">Plasma GLP-1</text>
<text transform="translate(14.8,195.7) rotate(-90)" text-anchor="middle" font-size="6.2"  fill="#777">pmol/L</text>
<g class="b">
<line x1="41.5" y1="164.3" x2="41.5" y2="226.6" class="dl"/>
<path d="M26.3 164.8V226.6H89.1" class="ax"/>
<path d="M24.5 226.6H26.3" class="ax"/>
<text x="24.4" y="228.75" class="tk" text-anchor="end">0</text>
<path d="M24.5 206.17H26.3" class="ax"/>
<text x="24.4" y="208.32" class="tk" text-anchor="end">20</text>
<path d="M24.5 185.73H26.3" class="ax"/>
<text x="24.4" y="187.88" class="tk" text-anchor="end">40</text>
<path d="M24.5 165.3H26.3" class="ax"/>
<text x="24.4" y="167.45" class="tk" text-anchor="end">60</text>
<path d="M26.3 226.6V228.5" class="ax"/>
<text x="26.3" y="235.3" class="tk" text-anchor="middle">-60</text>
<path d="M41.88 226.6V228.5" class="ax"/>
<text x="41.88" y="235.3" class="tk" text-anchor="middle">0</text>
<path d="M49.66 226.6V228.5" class="ax"/>
<text x="49.66" y="235.3" class="tk" text-anchor="middle">30</text>
<path d="M57.45 226.6V228.5" class="ax"/>
<text x="57.45" y="235.3" class="tk" text-anchor="middle">60</text>
<path d="M73.02 226.6V228.5" class="ax"/>
<text x="73.02" y="235.3" class="tk" text-anchor="middle">120</text>
<path d="M88.6 226.6V228.5" class="ax"/>
<text x="88.6" y="235.3" class="tk" text-anchor="middle">180</text>
<text x="57.45" y="242.4" class="tm" text-anchor="middle">Time (min)</text>
<text x="43.58" y="169.5" class="gl">Glucose</text>
<polygon points="43.77,175.7 44.38,172.7 45.07,171.3 46.38,171.1 47.57,172.1 47.07,173.3" class="ar"/>
<text x="28.3" y="196.3" class="gl">Placebo</text>
<polygon points="28.1,200.8 28.7,197.8 29.4,196.4 30.7,196.2 31.9,197.2 31.4,198.4" class="ar"/>
<path d="M26.3 226.6V221.49M24.8 221.49h3M24.8 226.6h3" stroke="#4a4fb8" stroke-width="0.85" fill="none"/>
<path d="M41.88 226.6V220.47M40.38 220.47h3M40.38 226.6h3" stroke="#4a4fb8" stroke-width="0.85" fill="none"/>
<path d="M49.66 218.43V208.21M48.16 208.21h3M48.16 218.43h3" stroke="#4a4fb8" stroke-width="0.85" fill="none"/>
<path d="M57.45 221.49V213.32M55.95 213.32h3M55.95 221.49h3" stroke="#4a4fb8" stroke-width="0.85" fill="none"/>
<path d="M73.02 224.56V218.43M71.52 218.43h3M71.52 224.56h3" stroke="#4a4fb8" stroke-width="0.85" fill="none"/>
<path d="M88.6 226.6V222.51M87.1 222.51h3M87.1 226.6h3" stroke="#4a4fb8" stroke-width="0.85" fill="none"/>
<polyline points="26.3,224.56 41.88,223.53 49.66,213.32 57.45,217.41 73.02,221.49 88.6,224.56" fill="none" stroke="#2433d0" stroke-width="1.2" stroke-linejoin="round"/>
<circle cx="26.3" cy="224.56" r="1.35" fill="#2433d0"/>
<circle cx="41.88" cy="223.53" r="1.35" fill="#2433d0"/>
<circle cx="49.66" cy="213.32" r="1.35" fill="#2433d0"/>
<circle cx="57.45" cy="217.41" r="1.35" fill="#2433d0"/>
<circle cx="73.02" cy="221.49" r="1.35" fill="#2433d0"/>
<circle cx="88.6" cy="224.56" r="1.35" fill="#2433d0"/>
<path d="M26.3 226.6V219.45M24.8 219.45h3M24.8 226.6h3" stroke="#b83d66" stroke-width="0.85" fill="none"/>
<path d="M41.88 226.6V220.47M40.38 220.47h3M40.38 226.6h3" stroke="#b83d66" stroke-width="0.85" fill="none"/>
<path d="M49.66 222.51V212.3M48.16 212.3h3M48.16 222.51h3" stroke="#b83d66" stroke-width="0.85" fill="none"/>
<path d="M57.45 222.51V214.34M55.95 214.34h3M55.95 222.51h3" stroke="#b83d66" stroke-width="0.85" fill="none"/>
<path d="M73.02 226.6V218.43M71.52 218.43h3M71.52 226.6h3" stroke="#b83d66" stroke-width="0.85" fill="none"/>
<path d="M88.6 226.6V221.49M87.1 221.49h3M87.1 226.6h3" stroke="#b83d66" stroke-width="0.85" fill="none"/>
<polyline points="26.3,223.53 41.88,223.53 49.66,217.41 57.45,218.43 73.02,222.51 88.6,224.56" fill="none" stroke="#e0245a" stroke-width="1.2" stroke-linejoin="round" stroke-opacity="0.8"/>
<circle cx="26.3" cy="223.53" r="1.35" fill="#e0245a"/>
<circle cx="41.88" cy="223.53" r="1.35" fill="#e0245a"/>
<circle cx="49.66" cy="217.41" r="1.35" fill="#e0245a"/>
<circle cx="57.45" cy="218.43" r="1.35" fill="#e0245a"/>
<circle cx="73.02" cy="222.51" r="1.35" fill="#e0245a"/>
<circle cx="88.6" cy="224.56" r="1.35" fill="#e0245a"/>
<path d="M15.2 253h7.4" stroke="#e0245a" stroke-width="0.9"/>
<circle cx="18.9" cy="253" r="1.35" fill="#e0245a"/>
<text x="25.6" y="255.1" class="lg" textLength="46.8" lengthAdjust="spacingAndGlyphs">Baseline (Day -1)</text>
<path d="M15.2 261.8h7.4" stroke="#2433d0" stroke-width="0.9"/>
<circle cx="18.9" cy="261.8" r="1.35" fill="#2433d0"/>
<text x="25.6" y="263.9" class="lg" textLength="43.8" lengthAdjust="spacingAndGlyphs">Placebo (Day 1)</text>
</g>
<g class="b">
<line x1="122.5" y1="164.3" x2="122.5" y2="226.6" class="dl"/>
<path d="M106.9 164.8V226.6H169.6" class="ax"/>
<path d="M105.1 226.6H106.9" class="ax"/>
<text x="105" y="228.75" class="tk" text-anchor="end">0</text>
<path d="M105.1 206.17H106.9" class="ax"/>
<text x="105" y="208.32" class="tk" text-anchor="end">20</text>
<path d="M105.1 185.73H106.9" class="ax"/>
<text x="105" y="187.88" class="tk" text-anchor="end">40</text>
<path d="M105.1 165.3H106.9" class="ax"/>
<text x="105" y="167.45" class="tk" text-anchor="end">60</text>
<path d="M106.9 226.6V228.5" class="ax"/>
<text x="106.9" y="235.3" class="tk" text-anchor="middle">-60</text>
<path d="M122.45 226.6V228.5" class="ax"/>
<text x="122.45" y="235.3" class="tk" text-anchor="middle">0</text>
<path d="M130.22 226.6V228.5" class="ax"/>
<text x="130.22" y="235.3" class="tk" text-anchor="middle">30</text>
<path d="M138 226.6V228.5" class="ax"/>
<text x="138" y="235.3" class="tk" text-anchor="middle">60</text>
<path d="M153.55 226.6V228.5" class="ax"/>
<text x="153.55" y="235.3" class="tk" text-anchor="middle">120</text>
<path d="M169.1 226.6V228.5" class="ax"/>
<text x="169.1" y="235.3" class="tk" text-anchor="middle">180</text>
<text x="138" y="242.4" class="tm" text-anchor="middle">Time (min)</text>
<text x="124.15" y="169.5" class="gl">Glucose</text>
<polygon points="124.35,175.7 124.95,172.7 125.65,171.3 126.95,171.1 128.15,172.1 127.65,173.3" class="ar"/>
<text x="108.9" y="196.3" class="gl">Drug</text>
<polygon points="108.7,200.8 109.3,197.8 110,196.4 111.3,196.2 112.5,197.2 112,198.4" class="ar"/>
<path d="M106.9 226.6V224.56M105.4 224.56h3M105.4 226.6h3" stroke="#4a4fb8" stroke-width="0.85" fill="none"/>
<path d="M122.45 223.43V198.91M120.95 198.91h3M120.95 223.43h3" stroke="#4a4fb8" stroke-width="0.85" fill="none"/>
<path d="M130.22 220.57V191.97M128.72 191.97h3M128.72 220.57h3" stroke="#4a4fb8" stroke-width="0.85" fill="none"/>
<path d="M138 223.13V188.39M136.5 188.39h3M136.5 223.13h3" stroke="#4a4fb8" stroke-width="0.85" fill="none"/>
<path d="M153.55 226.5V181.54M152.05 181.54h3M152.05 226.5h3" stroke="#4a4fb8" stroke-width="0.85" fill="none"/>
<path d="M169.1 222V201.57M167.6 201.57h3M167.6 222h3" stroke="#4a4fb8" stroke-width="0.85" fill="none"/>
<polyline points="106.9,225.58 122.45,211.17 130.22,206.27 138,205.76 153.55,204.02 169.1,211.79" fill="none" stroke="#2433d0" stroke-width="1.2" stroke-linejoin="round"/>
<circle cx="106.9" cy="225.58" r="1.35" fill="#2433d0"/>
<circle cx="122.45" cy="211.17" r="1.35" fill="#2433d0"/>
<circle cx="130.22" cy="206.27" r="1.35" fill="#2433d0"/>
<circle cx="138" cy="205.76" r="1.35" fill="#2433d0"/>
<circle cx="153.55" cy="204.02" r="1.35" fill="#2433d0"/>
<circle cx="169.1" cy="211.79" r="1.35" fill="#2433d0"/>
<path d="M130.22 226.6V178.58M128.72 178.58h3M128.72 226.6h3" stroke="#b83d66" stroke-width="0.85" fill="none"/>
<path d="M138 224.56V214.34M136.5 214.34h3M136.5 224.56h3" stroke="#b83d66" stroke-width="0.85" fill="none"/>
<path d="M153.55 226.6V218.43M152.05 218.43h3M152.05 226.6h3" stroke="#b83d66" stroke-width="0.85" fill="none"/>
<path d="M169.1 226.6V224.56M167.6 224.56h3M167.6 226.6h3" stroke="#b83d66" stroke-width="0.85" fill="none"/>
<polyline points="106.9,226.6 122.45,226.6 130.22,206.17 138,219.45 153.55,222.51 169.1,225.58" fill="none" stroke="#e0245a" stroke-width="1.2" stroke-linejoin="round"/>
<circle cx="106.9" cy="226.6" r="1.35" fill="#e0245a"/>
<circle cx="122.45" cy="226.6" r="1.35" fill="#e0245a"/>
<circle cx="130.22" cy="206.17" r="1.35" fill="#e0245a"/>
<circle cx="138" cy="219.45" r="1.35" fill="#e0245a"/>
<circle cx="153.55" cy="222.51" r="1.35" fill="#e0245a"/>
<circle cx="169.1" cy="225.58" r="1.35" fill="#e0245a"/>
<polygon points="125.56,201.52 126.2,203.24 128.03,203.32 126.6,204.46 127.09,206.23 125.56,205.22 124.03,206.23 124.52,204.46 123.09,203.32 124.92,203.24" fill="#2228a8"/>
<polygon points="172.73,204.59 173.37,206.3 175.2,206.38 173.77,207.53 174.26,209.29 172.73,208.28 171.2,209.29 171.69,207.53 170.26,206.38 172.09,206.3" fill="#2228a8"/>
<path d="M95.4 253h7.4" stroke="#e0245a" stroke-width="0.9"/>
<circle cx="99.1" cy="253" r="1.35" fill="#e0245a"/>
<text x="106.2" y="255.1" class="lg" textLength="46.8" lengthAdjust="spacingAndGlyphs">Baseline (Day -1)</text>
<path d="M95.4 261.8h7.4" stroke="#2433d0" stroke-width="0.9"/>
<circle cx="99.1" cy="261.8" r="1.35" fill="#2433d0"/>
<text x="106.2" y="263.9" class="lg" textLength="65.3" lengthAdjust="spacingAndGlyphs">SCO-267 40 mg (Day 1)</text>
</g>
<g class="b">
<line x1="206.5" y1="164.3" x2="206.5" y2="226.6" class="dl"/>
<path d="M190.6 164.8V226.6H253.4" class="ax"/>
<path d="M188.8 226.6H190.6" class="ax"/>
<text x="188.7" y="228.75" class="tk" text-anchor="end">0</text>
<path d="M188.8 206.17H190.6" class="ax"/>
<text x="188.7" y="208.32" class="tk" text-anchor="end">20</text>
<path d="M188.8 185.73H190.6" class="ax"/>
<text x="188.7" y="187.88" class="tk" text-anchor="end">40</text>
<path d="M188.8 165.3H190.6" class="ax"/>
<text x="188.7" y="167.45" class="tk" text-anchor="end">60</text>
<path d="M190.6 226.6V228.5" class="ax"/>
<text x="190.6" y="235.3" class="tk" text-anchor="middle">-60</text>
<path d="M206.18 226.6V228.5" class="ax"/>
<text x="206.18" y="235.3" class="tk" text-anchor="middle">0</text>
<path d="M213.96 226.6V228.5" class="ax"/>
<text x="213.96" y="235.3" class="tk" text-anchor="middle">30</text>
<path d="M221.75 226.6V228.5" class="ax"/>
<text x="221.75" y="235.3" class="tk" text-anchor="middle">60</text>
<path d="M237.32 226.6V228.5" class="ax"/>
<text x="237.32" y="235.3" class="tk" text-anchor="middle">120</text>
<path d="M252.9 226.6V228.5" class="ax"/>
<text x="252.9" y="235.3" class="tk" text-anchor="middle">180</text>
<text x="221.75" y="242.4" class="tm" text-anchor="middle">Time (min)</text>
<text x="207.88" y="169.5" class="gl">Glucose</text>
<polygon points="208.08,175.7 208.68,172.7 209.38,171.3 210.68,171.1 211.88,172.1 211.38,173.3" class="ar"/>
<text x="192.6" y="196.3" class="gl">Drug</text>
<polygon points="192.4,200.8 193,197.8 193.7,196.4 195,196.2 196.2,197.2 195.7,198.4" class="ar"/>
<path d="M190.6 226.6V222.51M189.1 222.51h3M189.1 226.6h3" stroke="#4a4fb8" stroke-width="0.85" fill="none"/>
<path d="M206.18 222V205.66M204.68 205.66h3M204.68 222h3" stroke="#4a4fb8" stroke-width="0.85" fill="none"/>
<path d="M213.96 211.79V197.48M212.46 197.48h3M212.46 211.79h3" stroke="#4a4fb8" stroke-width="0.85" fill="none"/>
<path d="M221.75 214.44V194.01M220.25 194.01h3M220.25 214.44h3" stroke="#4a4fb8" stroke-width="0.85" fill="none"/>
<path d="M237.32 213.73V193.29M235.82 193.29h3M235.82 213.73h3" stroke="#4a4fb8" stroke-width="0.85" fill="none"/>
<path d="M252.9 217.81V195.34M251.4 195.34h3M251.4 217.81h3" stroke="#4a4fb8" stroke-width="0.85" fill="none"/>
<polyline points="190.6,224.56 206.18,213.83 213.96,204.63 221.75,204.23 237.32,203.51 252.9,206.58" fill="none" stroke="#2433d0" stroke-width="1.2" stroke-linejoin="round"/>
<circle cx="190.6" cy="224.56" r="1.35" fill="#2433d0"/>
<circle cx="206.18" cy="213.83" r="1.35" fill="#2433d0"/>
<circle cx="213.96" cy="204.63" r="1.35" fill="#2433d0"/>
<circle cx="221.75" cy="204.23" r="1.35" fill="#2433d0"/>
<circle cx="237.32" cy="203.51" r="1.35" fill="#2433d0"/>
<circle cx="252.9" cy="206.58" r="1.35" fill="#2433d0"/>
<path d="M213.96 226.6V211.28M212.46 211.28h3M212.46 226.6h3" stroke="#b83d66" stroke-width="0.85" fill="none"/>
<path d="M221.75 226.6V214.34M220.25 214.34h3M220.25 226.6h3" stroke="#b83d66" stroke-width="0.85" fill="none"/>
<path d="M237.32 225.58V219.45M235.82 219.45h3M235.82 225.58h3" stroke="#b83d66" stroke-width="0.85" fill="none"/>
<polyline points="190.6,226.6 206.18,226.6 213.96,219.45 221.75,220.47 237.32,222.51 252.9,226.6" fill="none" stroke="#e0245a" stroke-width="1.2" stroke-linejoin="round"/>
<circle cx="190.6" cy="226.6" r="1.35" fill="#e0245a"/>
<circle cx="206.18" cy="226.6" r="1.35" fill="#e0245a"/>
<circle cx="213.96" cy="219.45" r="1.35" fill="#e0245a"/>
<circle cx="221.75" cy="220.47" r="1.35" fill="#e0245a"/>
<circle cx="237.32" cy="222.51" r="1.35" fill="#e0245a"/>
<circle cx="252.9" cy="226.6" r="1.35" fill="#e0245a"/>
<polygon points="209.96,201.42 210.61,203.14 212.44,203.22 211,204.36 211.49,206.12 209.96,205.11 208.44,206.12 208.93,204.36 207.49,203.22 209.32,203.14" fill="#2228a8"/>
<polygon points="217.6,197.85 218.24,199.56 220.07,199.64 218.64,200.78 219.12,202.55 217.6,201.54 216.07,202.55 216.56,200.78 215.12,199.64 216.95,199.56" fill="#2228a8"/>
<polygon points="226.06,197.85 226.7,199.56 228.53,199.64 227.1,200.78 227.59,202.55 226.06,201.54 224.53,202.55 225.02,200.78 223.59,199.64 225.42,199.56" fill="#2228a8"/>
<polygon points="240.86,197.85 241.5,199.56 243.33,199.64 241.89,200.78 242.38,202.55 240.86,201.54 239.33,202.55 239.82,200.78 238.38,199.64 240.21,199.56" fill="#2228a8"/>
<polygon points="256.38,200.2 257.02,201.91 258.85,201.99 257.42,203.13 257.91,204.9 256.38,203.89 254.85,204.9 255.34,203.13 253.91,201.99 255.74,201.91" fill="#2228a8"/>
<path d="M179.5 253h7.4" stroke="#e0245a" stroke-width="0.9"/>
<circle cx="183.2" cy="253" r="1.35" fill="#e0245a"/>
<text x="190.4" y="255.1" class="lg" textLength="46.8" lengthAdjust="spacingAndGlyphs">Baseline (Day -1)</text>
<path d="M179.5 261.8h7.4" stroke="#2433d0" stroke-width="0.9"/>
<circle cx="183.2" cy="261.8" r="1.35" fill="#2433d0"/>
<text x="190.4" y="263.9" class="lg" textLength="65.3" lengthAdjust="spacingAndGlyphs">SCO-267 80 mg (Day 1)</text>
</g>
<text x="264.6" y="155.3" class="lt" style="font-size:14.6px">D</text>
<text transform="translate(283.1,152.1) scale(1,0.94)" class="tt">Plasma GIP</text>
<text transform="translate(271.9,195.2) rotate(-90)" text-anchor="middle" font-size="5.6" font-weight="bold" fill="#222">pg/mL</text>
<g class="b">
<line x1="302.5" y1="164.3" x2="302.5" y2="226.6" class="dl"/>
<path d="M286.8 164.8V226.6H349.4" class="ax"/>
<path d="M285 226.6H286.8" class="ax"/>
<text x="284.9" y="228.75" class="tk" text-anchor="end">0</text>
<path d="M285 206.17H286.8" class="ax"/>
<text x="284.9" y="208.32" class="tk" text-anchor="end">200</text>
<path d="M285 185.73H286.8" class="ax"/>
<text x="284.9" y="187.88" class="tk" text-anchor="end">400</text>
<path d="M285 165.3H286.8" class="ax"/>
<text x="284.9" y="167.45" class="tk" text-anchor="end">600</text>
<path d="M286.8 226.6V228.5" class="ax"/>
<text x="286.8" y="235.3" class="tk" text-anchor="middle">-60</text>
<path d="M302.32 226.6V228.5" class="ax"/>
<text x="302.32" y="235.3" class="tk" text-anchor="middle">0</text>
<path d="M310.09 226.6V228.5" class="ax"/>
<text x="310.09" y="235.3" class="tk" text-anchor="middle">30</text>
<path d="M317.85 226.6V228.5" class="ax"/>
<text x="317.85" y="235.3" class="tk" text-anchor="middle">60</text>
<path d="M333.38 226.6V228.5" class="ax"/>
<text x="333.38" y="235.3" class="tk" text-anchor="middle">120</text>
<path d="M348.9 226.6V228.5" class="ax"/>
<text x="348.9" y="235.3" class="tk" text-anchor="middle">180</text>
<text x="317.85" y="242.4" class="tm" text-anchor="middle">Time (min)</text>
<text x="304.02" y="169.5" class="gl">Glucose</text>
<polygon points="304.22,175.7 304.82,172.7 305.52,171.3 306.82,171.1 308.02,172.1 307.52,173.3" class="ar"/>
<text x="288.8" y="196.3" class="gl">Placebo</text>
<polygon points="288.6,200.8 289.2,197.8 289.9,196.4 291.2,196.2 292.4,197.2 291.9,198.4" class="ar"/>
<path d="M286.8 224.56V218.43M285.3 218.43h3M285.3 224.56h3" stroke="#4a4fb8" stroke-width="0.85" fill="none"/>
<path d="M302.32 223.53V217.41M300.82 217.41h3M300.82 223.53h3" stroke="#4a4fb8" stroke-width="0.85" fill="none"/>
<path d="M310.09 203.1V190.84M308.59 190.84h3M308.59 203.1h3" stroke="#4a4fb8" stroke-width="0.85" fill="none"/>
<path d="M317.85 202.08V187.78M316.35 187.78h3M316.35 202.08h3" stroke="#4a4fb8" stroke-width="0.85" fill="none"/>
<path d="M333.38 200.04V187.78M331.88 187.78h3M331.88 200.04h3" stroke="#4a4fb8" stroke-width="0.85" fill="none"/>
<path d="M348.9 212.3V197.99M347.4 197.99h3M347.4 212.3h3" stroke="#4a4fb8" stroke-width="0.85" fill="none"/>
<polyline points="286.8,221.49 302.32,220.47 310.09,196.97 317.85,194.93 333.38,193.91 348.9,205.15" fill="none" stroke="#2433d0" stroke-width="1.2" stroke-linejoin="round"/>
<circle cx="286.8" cy="221.49" r="1.35" fill="#2433d0"/>
<circle cx="302.32" cy="220.47" r="1.35" fill="#2433d0"/>
<circle cx="310.09" cy="196.97" r="1.35" fill="#2433d0"/>
<circle cx="317.85" cy="194.93" r="1.35" fill="#2433d0"/>
<circle cx="333.38" cy="193.91" r="1.35" fill="#2433d0"/>
<circle cx="348.9" cy="205.15" r="1.35" fill="#2433d0"/>
<path d="M286.8 225.58V219.45M285.3 219.45h3M285.3 225.58h3" stroke="#b83d66" stroke-width="0.85" fill="none"/>
<path d="M302.32 224.05V217.92M300.82 217.92h3M300.82 224.05h3" stroke="#b83d66" stroke-width="0.85" fill="none"/>
<path d="M310.09 204.12V187.78M308.59 187.78h3M308.59 204.12h3" stroke="#b83d66" stroke-width="0.85" fill="none"/>
<path d="M317.85 202.08V175.52M316.35 175.52h3M316.35 202.08h3" stroke="#b83d66" stroke-width="0.85" fill="none"/>
<path d="M333.38 205.15V184.71M331.88 184.71h3M331.88 205.15h3" stroke="#b83d66" stroke-width="0.85" fill="none"/>
<path d="M348.9 211.28V192.88M347.4 192.88h3M347.4 211.28h3" stroke="#b83d66" stroke-width="0.85" fill="none"/>
<polyline points="286.8,222.51 302.32,220.98 310.09,195.95 317.85,188.8 333.38,194.93 348.9,202.08" fill="none" stroke="#e0245a" stroke-width="1.2" stroke-linejoin="round" stroke-opacity="0.8"/>
<circle cx="286.8" cy="222.51" r="1.35" fill="#e0245a"/>
<circle cx="302.32" cy="220.98" r="1.35" fill="#e0245a"/>
<circle cx="310.09" cy="195.95" r="1.35" fill="#e0245a"/>
<circle cx="317.85" cy="188.8" r="1.35" fill="#e0245a"/>
<circle cx="333.38" cy="194.93" r="1.35" fill="#e0245a"/>
<circle cx="348.9" cy="202.08" r="1.35" fill="#e0245a"/>
<path d="M275.9 253h7.4" stroke="#e0245a" stroke-width="0.9"/>
<circle cx="279.6" cy="253" r="1.35" fill="#e0245a"/>
<text x="286.4" y="255.1" class="lg" textLength="46.8" lengthAdjust="spacingAndGlyphs">Baseline (Day -1)</text>
<path d="M275.9 261.8h7.4" stroke="#2433d0" stroke-width="0.9"/>
<circle cx="279.6" cy="261.8" r="1.35" fill="#2433d0"/>
<text x="286.4" y="263.9" class="lg" textLength="43.8" lengthAdjust="spacingAndGlyphs">Placebo (Day 1)</text>
</g>
<g class="b">
<line x1="383.5" y1="164.3" x2="383.5" y2="226.6" class="dl"/>
<path d="M367.9 164.8V226.6H430.8" class="ax"/>
<path d="M366.1 226.6H367.9" class="ax"/>
<text x="366" y="228.75" class="tk" text-anchor="end">0</text>
<path d="M366.1 206.17H367.9" class="ax"/>
<text x="366" y="208.32" class="tk" text-anchor="end">200</text>
<path d="M366.1 185.73H367.9" class="ax"/>
<text x="366" y="187.88" class="tk" text-anchor="end">400</text>
<path d="M366.1 165.3H367.9" class="ax"/>
<text x="366" y="167.45" class="tk" text-anchor="end">600</text>
<path d="M367.9 226.6V228.5" class="ax"/>
<text x="367.9" y="235.3" class="tk" text-anchor="middle">-60</text>
<path d="M383.5 226.6V228.5" class="ax"/>
<text x="383.5" y="235.3" class="tk" text-anchor="middle">0</text>
<path d="M391.3 226.6V228.5" class="ax"/>
<text x="391.3" y="235.3" class="tk" text-anchor="middle">30</text>
<path d="M399.1 226.6V228.5" class="ax"/>
<text x="399.1" y="235.3" class="tk" text-anchor="middle">60</text>
<path d="M414.7 226.6V228.5" class="ax"/>
<text x="414.7" y="235.3" class="tk" text-anchor="middle">120</text>
<path d="M430.3 226.6V228.5" class="ax"/>
<text x="430.3" y="235.3" class="tk" text-anchor="middle">180</text>
<text x="399.1" y="242.4" class="tm" text-anchor="middle">Time (min)</text>
<text x="385.2" y="169.5" class="gl">Glucose</text>
<polygon points="385.4,175.7 386,172.7 386.7,171.3 388,171.1 389.2,172.1 388.7,173.3" class="ar"/>
<text x="369.9" y="196.3" class="gl">Drug</text>
<polygon points="369.7,200.8 370.3,197.8 371,196.4 372.3,196.2 373.5,197.2 373,198.4" class="ar"/>
<path d="M367.9 224.56V216.38M366.4 216.38h3M366.4 224.56h3" stroke="#4a4fb8" stroke-width="0.85" fill="none"/>
<path d="M383.5 207.19V201.06M382 201.06h3M382 207.19h3" stroke="#4a4fb8" stroke-width="0.85" fill="none"/>
<path d="M391.3 197.18V184.92M389.8 184.92h3M389.8 197.18h3" stroke="#4a4fb8" stroke-width="0.85" fill="none"/>
<path d="M399.1 204.63V178.07M397.6 178.07h3M397.6 204.63h3" stroke="#4a4fb8" stroke-width="0.85" fill="none"/>
<path d="M414.7 200.14V176.64M413.2 176.64h3M413.2 200.14h3" stroke="#4a4fb8" stroke-width="0.85" fill="none"/>
<path d="M430.3 212.5V184.92M428.8 184.92h3M428.8 212.5h3" stroke="#4a4fb8" stroke-width="0.85" fill="none"/>
<polyline points="367.9,220.47 383.5,204.12 391.3,191.05 399.1,191.35 414.7,188.39 430.3,198.71" fill="none" stroke="#2433d0" stroke-width="1.2" stroke-linejoin="round"/>
<circle cx="367.9" cy="220.47" r="1.35" fill="#2433d0"/>
<circle cx="383.5" cy="204.12" r="1.35" fill="#2433d0"/>
<circle cx="391.3" cy="191.05" r="1.35" fill="#2433d0"/>
<circle cx="399.1" cy="191.35" r="1.35" fill="#2433d0"/>
<circle cx="414.7" cy="188.39" r="1.35" fill="#2433d0"/>
<circle cx="430.3" cy="198.71" r="1.35" fill="#2433d0"/>
<path d="M367.9 226.09V215.87M366.4 215.87h3M366.4 226.09h3" stroke="#b83d66" stroke-width="0.85" fill="none"/>
<path d="M383.5 224.56V218.43M382 218.43h3M382 224.56h3" stroke="#b83d66" stroke-width="0.85" fill="none"/>
<path d="M391.3 207.19V180.62M389.8 180.62h3M389.8 207.19h3" stroke="#b83d66" stroke-width="0.85" fill="none"/>
<path d="M399.1 205.15V190.84M397.6 190.84h3M397.6 205.15h3" stroke="#b83d66" stroke-width="0.85" fill="none"/>
<path d="M414.7 207.19V199.01M413.2 199.01h3M413.2 207.19h3" stroke="#b83d66" stroke-width="0.85" fill="none"/>
<path d="M430.3 212.3V200.04M428.8 200.04h3M428.8 212.3h3" stroke="#b83d66" stroke-width="0.85" fill="none"/>
<polyline points="367.9,220.98 383.5,221.49 391.3,193.91 399.1,197.99 414.7,203.1 430.3,206.17" fill="none" stroke="#e0245a" stroke-width="1.2" stroke-linejoin="round"/>
<circle cx="367.9" cy="220.98" r="1.35" fill="#e0245a"/>
<circle cx="383.5" cy="221.49" r="1.35" fill="#e0245a"/>
<circle cx="391.3" cy="193.91" r="1.35" fill="#e0245a"/>
<circle cx="399.1" cy="197.99" r="1.35" fill="#e0245a"/>
<circle cx="414.7" cy="203.1" r="1.35" fill="#e0245a"/>
<circle cx="430.3" cy="206.17" r="1.35" fill="#e0245a"/>
<polygon points="386.1,191.51 386.74,193.23 388.57,193.31 387.14,194.45 387.63,196.21 386.1,195.2 384.57,196.21 385.06,194.45 383.63,193.31 385.46,193.23" fill="#2228a8"/>
<path d="M356.2 253h7.4" stroke="#e0245a" stroke-width="0.9"/>
<circle cx="359.9" cy="253" r="1.35" fill="#e0245a"/>
<text x="367.1" y="255.1" class="lg" textLength="46.8" lengthAdjust="spacingAndGlyphs">Baseline (Day -1)</text>
<path d="M356.2 261.8h7.4" stroke="#2433d0" stroke-width="0.9"/>
<circle cx="359.9" cy="261.8" r="1.35" fill="#2433d0"/>
<text x="367.1" y="263.9" class="lg" textLength="65.3" lengthAdjust="spacingAndGlyphs">SCO-267 40 mg (Day 1)</text>
</g>
<g class="b">
<line x1="465.5" y1="164.3" x2="465.5" y2="226.6" class="dl"/>
<path d="M449.7 164.8V226.6H512.1" class="ax"/>
<path d="M447.9 226.6H449.7" class="ax"/>
<text x="447.8" y="228.75" class="tk" text-anchor="end">0</text>
<path d="M447.9 206.17H449.7" class="ax"/>
<text x="447.8" y="208.32" class="tk" text-anchor="end">200</text>
<path d="M447.9 185.73H449.7" class="ax"/>
<text x="447.8" y="187.88" class="tk" text-anchor="end">400</text>
<path d="M447.9 165.3H449.7" class="ax"/>
<text x="447.8" y="167.45" class="tk" text-anchor="end">600</text>
<path d="M449.7 226.6V228.5" class="ax"/>
<text x="449.7" y="235.3" class="tk" text-anchor="middle">-60</text>
<path d="M465.18 226.6V228.5" class="ax"/>
<text x="465.18" y="235.3" class="tk" text-anchor="middle">0</text>
<path d="M472.91 226.6V228.5" class="ax"/>
<text x="472.91" y="235.3" class="tk" text-anchor="middle">30</text>
<path d="M480.65 226.6V228.5" class="ax"/>
<text x="480.65" y="235.3" class="tk" text-anchor="middle">60</text>
<path d="M496.12 226.6V228.5" class="ax"/>
<text x="496.12" y="235.3" class="tk" text-anchor="middle">120</text>
<path d="M511.6 226.6V228.5" class="ax"/>
<text x="511.6" y="235.3" class="tk" text-anchor="middle">180</text>
<text x="480.65" y="242.4" class="tm" text-anchor="middle">Time (min)</text>
<text x="466.88" y="169.5" class="gl">Glucose</text>
<polygon points="467.07,175.7 467.68,172.7 468.38,171.3 469.68,171.1 470.88,172.1 470.38,173.3" class="ar"/>
<text x="451.7" y="196.3" class="gl">Drug</text>
<polygon points="451.5,200.8 452.1,197.8 452.8,196.4 454.1,196.2 455.3,197.2 454.8,198.4" class="ar"/>
<path d="M449.7 221.49V217.41M448.2 217.41h3M448.2 221.49h3" stroke="#4a4fb8" stroke-width="0.85" fill="none"/>
<path d="M465.18 207.8V175.11M463.68 175.11h3M463.68 207.8h3" stroke="#4a4fb8" stroke-width="0.85" fill="none"/>
<path d="M472.91 202.28V173.68M471.41 173.68h3M471.41 202.28h3" stroke="#4a4fb8" stroke-width="0.85" fill="none"/>
<path d="M480.65 205.25V176.64M479.15 176.64h3M479.15 205.25h3" stroke="#4a4fb8" stroke-width="0.85" fill="none"/>
<path d="M496.12 200.75V174.19M494.62 174.19h3M494.62 200.75h3" stroke="#4a4fb8" stroke-width="0.85" fill="none"/>
<path d="M511.6 199.73V177.25M510.1 177.25h3M510.1 199.73h3" stroke="#4a4fb8" stroke-width="0.85" fill="none"/>
<polyline points="449.7,219.45 465.18,191.45 472.91,187.98 480.65,190.94 496.12,187.47 511.6,188.49" fill="none" stroke="#2433d0" stroke-width="1.2" stroke-linejoin="round"/>
<circle cx="449.7" cy="219.45" r="1.35" fill="#2433d0"/>
<circle cx="465.18" cy="191.45" r="1.35" fill="#2433d0"/>
<circle cx="472.91" cy="187.98" r="1.35" fill="#2433d0"/>
<circle cx="480.65" cy="190.94" r="1.35" fill="#2433d0"/>
<circle cx="496.12" cy="187.47" r="1.35" fill="#2433d0"/>
<circle cx="511.6" cy="188.49" r="1.35" fill="#2433d0"/>
<path d="M449.7 222.51V218.43M448.2 218.43h3M448.2 222.51h3" stroke="#b83d66" stroke-width="0.85" fill="none"/>
<path d="M465.18 224.56V220.47M463.68 220.47h3M463.68 224.56h3" stroke="#b83d66" stroke-width="0.85" fill="none"/>
<path d="M472.91 204.12V187.78M471.41 187.78h3M471.41 204.12h3" stroke="#b83d66" stroke-width="0.85" fill="none"/>
<path d="M480.65 201.06V180.62M479.15 180.62h3M479.15 201.06h3" stroke="#b83d66" stroke-width="0.85" fill="none"/>
<path d="M496.12 203.1V184.71M494.62 184.71h3M494.62 203.1h3" stroke="#b83d66" stroke-width="0.85" fill="none"/>
<path d="M511.6 217.41V188.8M510.1 188.8h3M510.1 217.41h3" stroke="#b83d66" stroke-width="0.85" fill="none"/>
<polyline points="449.7,220.47 465.18,222.51 472.91,195.95 480.65,190.84 496.12,193.91 511.6,203.1" fill="none" stroke="#e0245a" stroke-width="1.2" stroke-linejoin="round"/>
<circle cx="449.7" cy="220.47" r="1.35" fill="#e0245a"/>
<circle cx="465.18" cy="222.51" r="1.35" fill="#e0245a"/>
<circle cx="472.91" cy="195.95" r="1.35" fill="#e0245a"/>
<circle cx="480.65" cy="190.84" r="1.35" fill="#e0245a"/>
<circle cx="496.12" cy="193.91" r="1.35" fill="#e0245a"/>
<circle cx="511.6" cy="203.1" r="1.35" fill="#e0245a"/>
<polygon points="468.27,181.91 468.91,183.62 470.74,183.7 469.31,184.84 469.8,186.61 468.27,185.6 466.74,186.61 467.23,184.84 465.8,183.7 467.63,183.62" fill="#2228a8"/>
<polygon points="515.86,181.91 516.5,183.62 518.33,183.7 516.89,184.84 517.38,186.61 515.86,185.6 514.33,186.61 514.82,184.84 513.38,183.7 515.21,183.62" fill="#2228a8"/>
<path d="M438.7 253h7.4" stroke="#e0245a" stroke-width="0.9"/>
<circle cx="442.4" cy="253" r="1.35" fill="#e0245a"/>
<text x="449.5" y="255.1" class="lg" textLength="46.8" lengthAdjust="spacingAndGlyphs">Baseline (Day -1)</text>
<path d="M438.7 261.8h7.4" stroke="#2433d0" stroke-width="0.9"/>
<circle cx="442.4" cy="261.8" r="1.35" fill="#2433d0"/>
<text x="449.5" y="263.9" class="lg" textLength="65.3" lengthAdjust="spacingAndGlyphs">SCO-267 80 mg (Day 1)</text>
</g>
<text x="0" y="290.7" class="lt" style="font-size:14.8px">E</text>
<text transform="translate(22.4,287.2) scale(1,0.94)" class="tt">Plasma PYY</text>
<text transform="translate(11.9,329.7) rotate(-90)" text-anchor="middle" font-size="5.6" font-weight="bold" fill="#222">pg/mL</text>
<g class="b">
<line x1="42.5" y1="298.4" x2="42.5" y2="361.3" class="dl"/>
<path d="M26.8 298.9V361.3H89.8" class="ax"/>
<path d="M25 361.3H26.8" class="ax"/>
<text x="24.9" y="363.45" class="tk" text-anchor="end">0</text>
<path d="M25 345.82H26.8" class="ax"/>
<text x="24.9" y="347.97" class="tk" text-anchor="end">100</text>
<path d="M25 330.35H26.8" class="ax"/>
<text x="24.9" y="332.5" class="tk" text-anchor="end">200</text>
<path d="M25 314.88H26.8" class="ax"/>
<text x="24.9" y="317.02" class="tk" text-anchor="end">300</text>
<path d="M25 299.4H26.8" class="ax"/>
<text x="24.9" y="301.55" class="tk" text-anchor="end">400</text>
<path d="M26.8 361.3V363.2" class="ax"/>
<text x="26.8" y="370" class="tk" text-anchor="middle">-60</text>
<path d="M42.42 361.3V363.2" class="ax"/>
<text x="42.42" y="370" class="tk" text-anchor="middle">0</text>
<path d="M50.24 361.3V363.2" class="ax"/>
<text x="50.24" y="370" class="tk" text-anchor="middle">30</text>
<path d="M58.05 361.3V363.2" class="ax"/>
<text x="58.05" y="370" class="tk" text-anchor="middle">60</text>
<path d="M73.67 361.3V363.2" class="ax"/>
<text x="73.67" y="370" class="tk" text-anchor="middle">120</text>
<path d="M89.3 361.3V363.2" class="ax"/>
<text x="89.3" y="370" class="tk" text-anchor="middle">180</text>
<text x="58.05" y="377.1" class="tm" text-anchor="middle">Time (min)</text>
<text x="44.12" y="303.6" class="gl">Glucose</text>
<polygon points="44.32,309.8 44.92,306.8 45.62,305.4 46.92,305.2 48.12,306.2 47.62,307.4" class="ar"/>
<text x="28.8" y="330.4" class="gl">Placebo</text>
<polygon points="28.6,334.9 29.2,331.9 29.9,330.5 31.2,330.3 32.4,331.3 31.9,332.5" class="ar"/>
<path d="M26.8 348.15V338.86M25.3 338.86h3M25.3 348.15h3" stroke="#4a4fb8" stroke-width="0.85" fill="none"/>
<path d="M42.42 348.15V341.96M40.92 341.96h3M40.92 348.15h3" stroke="#4a4fb8" stroke-width="0.85" fill="none"/>
<path d="M50.24 345.82V338.09M48.74 338.09h3M48.74 345.82h3" stroke="#4a4fb8" stroke-width="0.85" fill="none"/>
<path d="M58.05 347.06V337.78M56.55 337.78h3M56.55 347.06h3" stroke="#4a4fb8" stroke-width="0.85" fill="none"/>
<path d="M73.67 347.84V340.1M72.17 340.1h3M72.17 347.84h3" stroke="#4a4fb8" stroke-width="0.85" fill="none"/>
<path d="M89.3 347.68V341.49M87.8 341.49h3M87.8 347.68h3" stroke="#4a4fb8" stroke-width="0.85" fill="none"/>
<polyline points="26.8,343.5 42.42,345.05 50.24,341.96 58.05,342.42 73.67,343.97 89.3,344.59" fill="none" stroke="#2433d0" stroke-width="1.2" stroke-linejoin="round"/>
<circle cx="26.8" cy="343.5" r="1.35" fill="#2433d0"/>
<circle cx="42.42" cy="345.05" r="1.35" fill="#2433d0"/>
<circle cx="50.24" cy="341.96" r="1.35" fill="#2433d0"/>
<circle cx="58.05" cy="342.42" r="1.35" fill="#2433d0"/>
<circle cx="73.67" cy="343.97" r="1.35" fill="#2433d0"/>
<circle cx="89.3" cy="344.59" r="1.35" fill="#2433d0"/>
<path d="M26.8 349.23V336.85M25.3 336.85h3M25.3 349.23h3" stroke="#b83d66" stroke-width="0.85" fill="none"/>
<path d="M42.42 348.92V341.18M40.92 341.18h3M40.92 348.92h3" stroke="#b83d66" stroke-width="0.85" fill="none"/>
<path d="M50.24 346.13V336.85M48.74 336.85h3M48.74 346.13h3" stroke="#b83d66" stroke-width="0.85" fill="none"/>
<path d="M58.05 347.37V336.54M56.55 336.54h3M56.55 347.37h3" stroke="#b83d66" stroke-width="0.85" fill="none"/>
<path d="M73.67 347.84V340.1M72.17 340.1h3M72.17 347.84h3" stroke="#b83d66" stroke-width="0.85" fill="none"/>
<path d="M89.3 348.46V340.72M87.8 340.72h3M87.8 348.46h3" stroke="#b83d66" stroke-width="0.85" fill="none"/>
<polyline points="26.8,343.04 42.42,345.05 50.24,341.49 58.05,341.96 73.67,343.97 89.3,344.59" fill="none" stroke="#e0245a" stroke-width="1.2" stroke-linejoin="round" stroke-opacity="0.8"/>
<circle cx="26.8" cy="343.04" r="1.35" fill="#e0245a"/>
<circle cx="42.42" cy="345.05" r="1.35" fill="#e0245a"/>
<circle cx="50.24" cy="341.49" r="1.35" fill="#e0245a"/>
<circle cx="58.05" cy="341.96" r="1.35" fill="#e0245a"/>
<circle cx="73.67" cy="343.97" r="1.35" fill="#e0245a"/>
<circle cx="89.3" cy="344.59" r="1.35" fill="#e0245a"/>
<path d="M15.6 387.2h7.4" stroke="#e0245a" stroke-width="0.9"/>
<circle cx="19.3" cy="387.2" r="1.35" fill="#e0245a"/>
<text x="26.4" y="389.3" class="lg" textLength="46.8" lengthAdjust="spacingAndGlyphs">Baseline (Day -1)</text>
<path d="M15.6 395.8h7.4" stroke="#2433d0" stroke-width="0.9"/>
<circle cx="19.3" cy="395.8" r="1.35" fill="#2433d0"/>
<text x="26.4" y="397.9" class="lg" textLength="43.8" lengthAdjust="spacingAndGlyphs">Placebo (Day 1)</text>
</g>
<g class="b">
<line x1="121.5" y1="298.4" x2="121.5" y2="361.3" class="dl"/>
<path d="M106 298.9V361.3H168.8" class="ax"/>
<path d="M104.2 361.3H106" class="ax"/>
<text x="104.1" y="363.45" class="tk" text-anchor="end">0</text>
<path d="M104.2 345.82H106" class="ax"/>
<text x="104.1" y="347.97" class="tk" text-anchor="end">100</text>
<path d="M104.2 330.35H106" class="ax"/>
<text x="104.1" y="332.5" class="tk" text-anchor="end">200</text>
<path d="M104.2 314.88H106" class="ax"/>
<text x="104.1" y="317.02" class="tk" text-anchor="end">300</text>
<path d="M104.2 299.4H106" class="ax"/>
<text x="104.1" y="301.55" class="tk" text-anchor="end">400</text>
<path d="M106 361.3V363.2" class="ax"/>
<text x="106" y="370" class="tk" text-anchor="middle">-60</text>
<path d="M121.58 361.3V363.2" class="ax"/>
<text x="121.58" y="370" class="tk" text-anchor="middle">0</text>
<path d="M129.36 361.3V363.2" class="ax"/>
<text x="129.36" y="370" class="tk" text-anchor="middle">30</text>
<path d="M137.15 361.3V363.2" class="ax"/>
<text x="137.15" y="370" class="tk" text-anchor="middle">60</text>
<path d="M152.73 361.3V363.2" class="ax"/>
<text x="152.73" y="370" class="tk" text-anchor="middle">120</text>
<path d="M168.3 361.3V363.2" class="ax"/>
<text x="168.3" y="370" class="tk" text-anchor="middle">180</text>
<text x="137.15" y="377.1" class="tm" text-anchor="middle">Time (min)</text>
<text x="123.28" y="303.6" class="gl">Glucose</text>
<polygon points="123.48,309.8 124.08,306.8 124.78,305.4 126.08,305.2 127.28,306.2 126.78,307.4" class="ar"/>
<text x="108" y="330.4" class="gl">Drug</text>
<polygon points="107.8,334.9 108.4,331.9 109.1,330.5 110.4,330.3 111.6,331.3 111.1,332.5" class="ar"/>
<path d="M106 348.92V341.18M104.5 341.18h3M104.5 348.92h3" stroke="#4a4fb8" stroke-width="0.85" fill="none"/>
<path d="M121.58 348.92V325.71M120.08 325.71h3M120.08 348.92h3" stroke="#4a4fb8" stroke-width="0.85" fill="none"/>
<path d="M129.36 344.28V313.33M127.86 313.33h3M127.86 344.28h3" stroke="#4a4fb8" stroke-width="0.85" fill="none"/>
<path d="M137.15 344.28V308.69M135.65 308.69h3M135.65 344.28h3" stroke="#4a4fb8" stroke-width="0.85" fill="none"/>
<path d="M152.73 343.81V302.03M151.23 302.03h3M151.23 343.81h3" stroke="#4a4fb8" stroke-width="0.85" fill="none"/>
<path d="M168.3 339.94V317.66M166.8 317.66h3M166.8 339.94h3" stroke="#4a4fb8" stroke-width="0.85" fill="none"/>
<polyline points="106,345.05 121.58,337.31 129.36,328.8 137.15,326.48 152.73,322.92 168.3,328.8" fill="none" stroke="#2433d0" stroke-width="1.2" stroke-linejoin="round"/>
<circle cx="106" cy="345.05" r="1.35" fill="#2433d0"/>
<circle cx="121.58" cy="337.31" r="1.35" fill="#2433d0"/>
<circle cx="129.36" cy="328.8" r="1.35" fill="#2433d0"/>
<circle cx="137.15" cy="326.48" r="1.35" fill="#2433d0"/>
<circle cx="152.73" cy="322.92" r="1.35" fill="#2433d0"/>
<circle cx="168.3" cy="328.8" r="1.35" fill="#2433d0"/>
<path d="M106 348.92V341.18M104.5 341.18h3M104.5 348.92h3" stroke="#b83d66" stroke-width="0.85" fill="none"/>
<path d="M121.58 349.69V341.96M120.08 341.96h3M120.08 349.69h3" stroke="#b83d66" stroke-width="0.85" fill="none"/>
<path d="M129.36 352.01V319.52M127.86 319.52h3M127.86 352.01h3" stroke="#b83d66" stroke-width="0.85" fill="none"/>
<path d="M137.15 350.47V325.71M135.65 325.71h3M135.65 350.47h3" stroke="#b83d66" stroke-width="0.85" fill="none"/>
<path d="M152.73 351.09V330.97M151.23 330.97h3M151.23 351.09h3" stroke="#b83d66" stroke-width="0.85" fill="none"/>
<path d="M168.3 350.31V336.39M166.8 336.39h3M166.8 350.31h3" stroke="#b83d66" stroke-width="0.85" fill="none"/>
<polyline points="106,345.05 121.58,345.82 129.36,335.77 137.15,338.09 152.73,341.03 168.3,343.35" fill="none" stroke="#e0245a" stroke-width="1.2" stroke-linejoin="round"/>
<circle cx="106" cy="345.05" r="1.35" fill="#e0245a"/>
<circle cx="121.58" cy="345.82" r="1.35" fill="#e0245a"/>
<circle cx="129.36" cy="335.77" r="1.35" fill="#e0245a"/>
<circle cx="137.15" cy="338.09" r="1.35" fill="#e0245a"/>
<circle cx="152.73" cy="341.03" r="1.35" fill="#e0245a"/>
<circle cx="168.3" cy="343.35" r="1.35" fill="#e0245a"/>
<polygon points="171.29,320.79 171.93,322.5 173.76,322.58 172.32,323.72 172.81,325.49 171.29,324.48 169.76,325.49 170.25,323.72 168.81,322.58 170.64,322.5" fill="#2228a8"/>
<path d="M94.5 387.2h7.4" stroke="#e0245a" stroke-width="0.9"/>
<circle cx="98.2" cy="387.2" r="1.35" fill="#e0245a"/>
<text x="105.4" y="389.3" class="lg" textLength="46.8" lengthAdjust="spacingAndGlyphs">Baseline (Day -1)</text>
<path d="M94.5 395.8h7.4" stroke="#2433d0" stroke-width="0.9"/>
<circle cx="98.2" cy="395.8" r="1.35" fill="#2433d0"/>
<text x="105.4" y="397.9" class="lg" textLength="65.3" lengthAdjust="spacingAndGlyphs">SCO-267 40 mg (Day 1)</text>
</g>
<g class="b">
<line x1="203.5" y1="298.4" x2="203.5" y2="361.3" class="dl"/>
<path d="M188.5 298.9V361.3H250.9" class="ax"/>
<path d="M186.7 361.3H188.5" class="ax"/>
<text x="186.6" y="363.45" class="tk" text-anchor="end">0</text>
<path d="M186.7 345.82H188.5" class="ax"/>
<text x="186.6" y="347.97" class="tk" text-anchor="end">100</text>
<path d="M186.7 330.35H188.5" class="ax"/>
<text x="186.6" y="332.5" class="tk" text-anchor="end">200</text>
<path d="M186.7 314.88H188.5" class="ax"/>
<text x="186.6" y="317.02" class="tk" text-anchor="end">300</text>
<path d="M186.7 299.4H188.5" class="ax"/>
<text x="186.6" y="301.55" class="tk" text-anchor="end">400</text>
<path d="M188.5 361.3V363.2" class="ax"/>
<text x="188.5" y="370" class="tk" text-anchor="middle">-60</text>
<path d="M203.97 361.3V363.2" class="ax"/>
<text x="203.97" y="370" class="tk" text-anchor="middle">0</text>
<path d="M211.71 361.3V363.2" class="ax"/>
<text x="211.71" y="370" class="tk" text-anchor="middle">30</text>
<path d="M219.45 361.3V363.2" class="ax"/>
<text x="219.45" y="370" class="tk" text-anchor="middle">60</text>
<path d="M234.93 361.3V363.2" class="ax"/>
<text x="234.93" y="370" class="tk" text-anchor="middle">120</text>
<path d="M250.4 361.3V363.2" class="ax"/>
<text x="250.4" y="370" class="tk" text-anchor="middle">180</text>
<text x="219.45" y="377.1" class="tm" text-anchor="middle">Time (min)</text>
<text x="205.67" y="303.6" class="gl">Glucose</text>
<polygon points="205.88,309.8 206.47,306.8 207.18,305.4 208.47,305.2 209.68,306.2 209.18,307.4" class="ar"/>
<text x="190.5" y="330.4" class="gl">Drug</text>
<polygon points="190.3,334.9 190.9,331.9 191.6,330.5 192.9,330.3 194.1,331.3 193.6,332.5" class="ar"/>
<path d="M188.5 344.28V336.54M187 336.54h3M187 344.28h3" stroke="#4a4fb8" stroke-width="0.85" fill="none"/>
<path d="M203.97 341.96V328.03M202.47 328.03h3M202.47 341.96h3" stroke="#4a4fb8" stroke-width="0.85" fill="none"/>
<path d="M211.71 334.99V315.8M210.21 315.8h3M210.21 334.99h3" stroke="#4a4fb8" stroke-width="0.85" fill="none"/>
<path d="M219.45 332.21V312.4M217.95 312.4h3M217.95 332.21h3" stroke="#4a4fb8" stroke-width="0.85" fill="none"/>
<path d="M234.93 332.05V310.7M233.43 310.7h3M233.43 332.05h3" stroke="#4a4fb8" stroke-width="0.85" fill="none"/>
<path d="M250.4 333.44V317.35M248.9 317.35h3M248.9 333.44h3" stroke="#4a4fb8" stroke-width="0.85" fill="none"/>
<polyline points="188.5,340.41 203.97,334.99 211.71,325.4 219.45,322.3 234.93,321.37 250.4,325.4" fill="none" stroke="#2433d0" stroke-width="1.2" stroke-linejoin="round"/>
<circle cx="188.5" cy="340.41" r="1.35" fill="#2433d0"/>
<circle cx="203.97" cy="334.99" r="1.35" fill="#2433d0"/>
<circle cx="211.71" cy="325.4" r="1.35" fill="#2433d0"/>
<circle cx="219.45" cy="322.3" r="1.35" fill="#2433d0"/>
<circle cx="234.93" cy="321.37" r="1.35" fill="#2433d0"/>
<circle cx="250.4" cy="325.4" r="1.35" fill="#2433d0"/>
<path d="M188.5 342.73V334.99M187 334.99h3M187 342.73h3" stroke="#b83d66" stroke-width="0.85" fill="none"/>
<path d="M203.97 342.73V336.54M202.47 336.54h3M202.47 342.73h3" stroke="#b83d66" stroke-width="0.85" fill="none"/>
<path d="M211.71 342.27V334.53M210.21 334.53h3M210.21 342.27h3" stroke="#b83d66" stroke-width="0.85" fill="none"/>
<path d="M219.45 343.19V335.46M217.95 335.46h3M217.95 343.19h3" stroke="#b83d66" stroke-width="0.85" fill="none"/>
<path d="M234.93 344.28V336.54M233.43 336.54h3M233.43 344.28h3" stroke="#b83d66" stroke-width="0.85" fill="none"/>
<path d="M250.4 344.59V338.4M248.9 338.4h3M248.9 344.59h3" stroke="#b83d66" stroke-width="0.85" fill="none"/>
<polyline points="188.5,338.86 203.97,339.63 211.71,338.4 219.45,339.33 234.93,340.41 250.4,341.49" fill="none" stroke="#e0245a" stroke-width="1.2" stroke-linejoin="round"/>
<circle cx="188.5" cy="338.86" r="1.35" fill="#e0245a"/>
<circle cx="203.97" cy="339.63" r="1.35" fill="#e0245a"/>
<circle cx="211.71" cy="338.4" r="1.35" fill="#e0245a"/>
<circle cx="219.45" cy="339.33" r="1.35" fill="#e0245a"/>
<circle cx="234.93" cy="340.41" r="1.35" fill="#e0245a"/>
<circle cx="250.4" cy="341.49" r="1.35" fill="#e0245a"/>
<polygon points="223.83,314.75 224.48,316.47 226.31,316.55 224.87,317.69 225.36,319.45 223.83,318.44 222.31,319.45 222.8,317.69 221.36,316.55 223.19,316.47" fill="#2228a8"/>
<polygon points="239.57,314.75 240.21,316.47 242.04,316.55 240.61,317.69 241.1,319.45 239.57,318.44 238.04,319.45 238.53,317.69 237.09,316.55 238.93,316.47" fill="#2228a8"/>
<polygon points="255.56,318.77 256.2,320.49 258.03,320.57 256.6,321.71 257.09,323.48 255.56,322.47 254.03,323.48 254.52,321.71 253.09,320.57 254.92,320.49" fill="#2228a8"/>
<path d="M176.9 387.2h7.4" stroke="#e0245a" stroke-width="0.9"/>
<circle cx="180.6" cy="387.2" r="1.35" fill="#e0245a"/>
<text x="187.8" y="389.3" class="lg" textLength="46.8" lengthAdjust="spacingAndGlyphs">Baseline (Day -1)</text>
<path d="M176.9 395.8h7.4" stroke="#2433d0" stroke-width="0.9"/>
<circle cx="180.6" cy="395.8" r="1.35" fill="#2433d0"/>
<text x="187.8" y="397.9" class="lg" textLength="65.3" lengthAdjust="spacingAndGlyphs">SCO-267 80 mg (Day 1)</text>
</g>
<text x="264.4" y="290.9" class="lt" style="font-size:14.8px">F</text>
<text transform="translate(283.5,287.2) scale(1,0.94)" class="tt">Plasma glucagon</text>
<text transform="translate(274.9,329.9) rotate(-90)" text-anchor="middle" font-size="5.9"  fill="#333">pmol/L</text>
<g class="b">
<line x1="302.5" y1="298.4" x2="302.5" y2="361.3" class="dl"/>
<path d="M286.8 298.9V361.3H349.3" class="ax"/>
<path d="M285 361.3H286.8" class="ax"/>
<text x="284.9" y="363.45" class="tk" text-anchor="end">0</text>
<path d="M285 340.67H286.8" class="ax"/>
<text x="284.9" y="342.82" class="tk" text-anchor="end">20</text>
<path d="M285 320.03H286.8" class="ax"/>
<text x="284.9" y="322.18" class="tk" text-anchor="end">40</text>
<path d="M285 299.4H286.8" class="ax"/>
<text x="284.9" y="301.55" class="tk" text-anchor="end">60</text>
<path d="M286.8 361.3V363.2" class="ax"/>
<text x="286.8" y="370" class="tk" text-anchor="middle">-60</text>
<path d="M302.3 361.3V363.2" class="ax"/>
<text x="302.3" y="370" class="tk" text-anchor="middle">0</text>
<path d="M310.05 361.3V363.2" class="ax"/>
<text x="310.05" y="370" class="tk" text-anchor="middle">30</text>
<path d="M317.8 361.3V363.2" class="ax"/>
<text x="317.8" y="370" class="tk" text-anchor="middle">60</text>
<path d="M333.3 361.3V363.2" class="ax"/>
<text x="333.3" y="370" class="tk" text-anchor="middle">120</text>
<path d="M348.8 361.3V363.2" class="ax"/>
<text x="348.8" y="370" class="tk" text-anchor="middle">180</text>
<text x="317.8" y="377.1" class="tm" text-anchor="middle">Time (min)</text>
<text x="304" y="303.6" class="gl">Glucose</text>
<polygon points="304.2,309.8 304.8,306.8 305.5,305.4 306.8,305.2 308,306.2 307.5,307.4" class="ar"/>
<text x="288.8" y="330.4" class="gl">Placebo</text>
<polygon points="288.6,334.9 289.2,331.9 289.9,330.5 291.2,330.3 292.4,331.3 291.9,332.5" class="ar"/>
<path d="M286.8 357.17V348.92M285.3 348.92h3M285.3 357.17h3" stroke="#4a4fb8" stroke-width="0.85" fill="none"/>
<path d="M302.3 356.14V347.89M300.8 347.89h3M300.8 356.14h3" stroke="#4a4fb8" stroke-width="0.85" fill="none"/>
<path d="M310.05 356.14V349.95M308.55 349.95h3M308.55 356.14h3" stroke="#4a4fb8" stroke-width="0.85" fill="none"/>
<path d="M317.8 358.2V352.01M316.3 352.01h3M316.3 358.2h3" stroke="#4a4fb8" stroke-width="0.85" fill="none"/>
<path d="M333.3 358.2V354.08M331.8 354.08h3M331.8 358.2h3" stroke="#4a4fb8" stroke-width="0.85" fill="none"/>
<path d="M348.8 359.24V355.11M347.3 355.11h3M347.3 359.24h3" stroke="#4a4fb8" stroke-width="0.85" fill="none"/>
<polyline points="286.8,353.05 302.3,352.01 310.05,353.05 317.8,355.11 333.3,356.14 348.8,357.17" fill="none" stroke="#2433d0" stroke-width="1.2" stroke-linejoin="round"/>
<circle cx="286.8" cy="353.05" r="1.35" fill="#2433d0"/>
<circle cx="302.3" cy="352.01" r="1.35" fill="#2433d0"/>
<circle cx="310.05" cy="353.05" r="1.35" fill="#2433d0"/>
<circle cx="317.8" cy="355.11" r="1.35" fill="#2433d0"/>
<circle cx="333.3" cy="356.14" r="1.35" fill="#2433d0"/>
<circle cx="348.8" cy="357.17" r="1.35" fill="#2433d0"/>
<path d="M286.8 356.14V347.89M285.3 347.89h3M285.3 356.14h3" stroke="#b83d66" stroke-width="0.85" fill="none"/>
<path d="M302.3 356.14V347.89M300.8 347.89h3M300.8 356.14h3" stroke="#b83d66" stroke-width="0.85" fill="none"/>
<path d="M310.05 356.14V347.89M308.55 347.89h3M308.55 356.14h3" stroke="#b83d66" stroke-width="0.85" fill="none"/>
<path d="M317.8 358.2V352.01M316.3 352.01h3M316.3 358.2h3" stroke="#b83d66" stroke-width="0.85" fill="none"/>
<path d="M333.3 358.2V354.08M331.8 354.08h3M331.8 358.2h3" stroke="#b83d66" stroke-width="0.85" fill="none"/>
<path d="M348.8 359.24V355.11M347.3 355.11h3M347.3 359.24h3" stroke="#b83d66" stroke-width="0.85" fill="none"/>
<polyline points="286.8,352.01 302.3,352.01 310.05,352.01 317.8,355.11 333.3,356.14 348.8,357.17" fill="none" stroke="#e0245a" stroke-width="1.2" stroke-linejoin="round" stroke-opacity="0.8"/>
<circle cx="286.8" cy="352.01" r="1.35" fill="#e0245a"/>
<circle cx="302.3" cy="352.01" r="1.35" fill="#e0245a"/>
<circle cx="310.05" cy="352.01" r="1.35" fill="#e0245a"/>
<circle cx="317.8" cy="355.11" r="1.35" fill="#e0245a"/>
<circle cx="333.3" cy="356.14" r="1.35" fill="#e0245a"/>
<circle cx="348.8" cy="357.17" r="1.35" fill="#e0245a"/>
<path d="M275.6 387.2h7.4" stroke="#e0245a" stroke-width="0.9"/>
<circle cx="279.3" cy="387.2" r="1.35" fill="#e0245a"/>
<text x="286.4" y="389.3" class="lg" textLength="46.8" lengthAdjust="spacingAndGlyphs">Baseline (Day -1)</text>
<path d="M275.6 395.8h7.4" stroke="#2433d0" stroke-width="0.9"/>
<circle cx="279.3" cy="395.8" r="1.35" fill="#2433d0"/>
<text x="286.4" y="397.9" class="lg" textLength="43.8" lengthAdjust="spacingAndGlyphs">Placebo (Day 1)</text>
</g>
<g class="b">
<line x1="383.5" y1="298.4" x2="383.5" y2="361.3" class="dl"/>
<path d="M367.9 298.9V361.3H430.8" class="ax"/>
<path d="M366.1 361.3H367.9" class="ax"/>
<text x="366" y="363.45" class="tk" text-anchor="end">0</text>
<path d="M366.1 340.67H367.9" class="ax"/>
<text x="366" y="342.82" class="tk" text-anchor="end">20</text>
<path d="M366.1 320.03H367.9" class="ax"/>
<text x="366" y="322.18" class="tk" text-anchor="end">40</text>
<path d="M366.1 299.4H367.9" class="ax"/>
<text x="366" y="301.55" class="tk" text-anchor="end">60</text>
<path d="M367.9 361.3V363.2" class="ax"/>
<text x="367.9" y="370" class="tk" text-anchor="middle">-60</text>
<path d="M383.5 361.3V363.2" class="ax"/>
<text x="383.5" y="370" class="tk" text-anchor="middle">0</text>
<path d="M391.3 361.3V363.2" class="ax"/>
<text x="391.3" y="370" class="tk" text-anchor="middle">30</text>
<path d="M399.1 361.3V363.2" class="ax"/>
<text x="399.1" y="370" class="tk" text-anchor="middle">60</text>
<path d="M414.7 361.3V363.2" class="ax"/>
<text x="414.7" y="370" class="tk" text-anchor="middle">120</text>
<path d="M430.3 361.3V363.2" class="ax"/>
<text x="430.3" y="370" class="tk" text-anchor="middle">180</text>
<text x="399.1" y="377.1" class="tm" text-anchor="middle">Time (min)</text>
<text x="385.2" y="303.6" class="gl">Glucose</text>
<polygon points="385.4,309.8 386,306.8 386.7,305.4 388,305.2 389.2,306.2 388.7,307.4" class="ar"/>
<text x="369.9" y="330.4" class="gl">Drug</text>
<polygon points="369.7,334.9 370.3,331.9 371,330.5 372.3,330.3 373.5,331.3 373,332.5" class="ar"/>
<path d="M367.9 357.17V353.05M366.4 353.05h3M366.4 357.17h3" stroke="#4a4fb8" stroke-width="0.85" fill="none"/>
<path d="M383.5 350.78V336.33M382 336.33h3M382 350.78h3" stroke="#4a4fb8" stroke-width="0.85" fill="none"/>
<path d="M391.3 350.98V334.48M389.8 334.48h3M389.8 350.98h3" stroke="#4a4fb8" stroke-width="0.85" fill="none"/>
<path d="M399.1 355.42V332.72M397.6 332.72h3M397.6 355.42h3" stroke="#4a4fb8" stroke-width="0.85" fill="none"/>
<path d="M414.7 354.49V329.73M413.2 329.73h3M413.2 354.49h3" stroke="#4a4fb8" stroke-width="0.85" fill="none"/>
<path d="M430.3 356.86V327.98M428.8 327.98h3M428.8 356.86h3" stroke="#4a4fb8" stroke-width="0.85" fill="none"/>
<polyline points="367.9,355.11 383.5,343.56 391.3,342.73 399.1,344.07 414.7,342.11 430.3,342.42" fill="none" stroke="#2433d0" stroke-width="1.2" stroke-linejoin="round"/>
<circle cx="367.9" cy="355.11" r="1.35" fill="#2433d0"/>
<circle cx="383.5" cy="343.56" r="1.35" fill="#2433d0"/>
<circle cx="391.3" cy="342.73" r="1.35" fill="#2433d0"/>
<circle cx="399.1" cy="344.07" r="1.35" fill="#2433d0"/>
<circle cx="414.7" cy="342.11" r="1.35" fill="#2433d0"/>
<circle cx="430.3" cy="342.42" r="1.35" fill="#2433d0"/>
<path d="M367.9 358.2V354.08M366.4 354.08h3M366.4 358.2h3" stroke="#b83d66" stroke-width="0.85" fill="none"/>
<path d="M383.5 358.41V356.35M382 356.35h3M382 358.41h3" stroke="#b83d66" stroke-width="0.85" fill="none"/>
<path d="M391.3 357.17V353.05M389.8 353.05h3M389.8 357.17h3" stroke="#b83d66" stroke-width="0.85" fill="none"/>
<path d="M399.1 358.41V356.35M397.6 356.35h3M397.6 358.41h3" stroke="#b83d66" stroke-width="0.85" fill="none"/>
<path d="M414.7 359.96V357.9M413.2 357.9h3M413.2 359.96h3" stroke="#b83d66" stroke-width="0.85" fill="none"/>
<path d="M430.3 359.96V357.9M428.8 357.9h3M428.8 359.96h3" stroke="#b83d66" stroke-width="0.85" fill="none"/>
<polyline points="367.9,356.14 383.5,357.38 391.3,355.11 399.1,357.38 414.7,358.93 430.3,358.93" fill="none" stroke="#e0245a" stroke-width="1.2" stroke-linejoin="round"/>
<circle cx="367.9" cy="356.14" r="1.35" fill="#e0245a"/>
<circle cx="383.5" cy="357.38" r="1.35" fill="#e0245a"/>
<circle cx="391.3" cy="355.11" r="1.35" fill="#e0245a"/>
<circle cx="399.1" cy="357.38" r="1.35" fill="#e0245a"/>
<circle cx="414.7" cy="358.93" r="1.35" fill="#e0245a"/>
<circle cx="430.3" cy="358.93" r="1.35" fill="#e0245a"/>
<polygon points="387.66,336.62 388.3,338.34 390.13,338.42 388.7,339.56 389.19,341.33 387.66,340.31 386.13,341.33 386.62,339.56 385.19,338.42 387.02,338.34" fill="#2228a8"/>
<polygon points="394.94,336.62 395.58,338.34 397.41,338.42 395.98,339.56 396.47,341.33 394.94,340.31 393.41,341.33 393.9,339.56 392.47,338.42 394.3,338.34" fill="#2228a8"/>
<polygon points="418.34,335.49 418.98,337.2 420.81,337.28 419.38,338.42 419.87,340.19 418.34,339.18 416.81,340.19 417.3,338.42 415.87,337.28 417.7,337.2" fill="#2228a8"/>
<polygon points="433.68,336 434.32,337.72 436.15,337.8 434.72,338.94 435.21,340.71 433.68,339.7 432.15,340.71 432.64,338.94 431.21,337.8 433.04,337.72" fill="#2228a8"/>
<path d="M356.2 387.2h7.4" stroke="#e0245a" stroke-width="0.9"/>
<circle cx="359.9" cy="387.2" r="1.35" fill="#e0245a"/>
<text x="367.1" y="389.3" class="lg" textLength="46.8" lengthAdjust="spacingAndGlyphs">Baseline (Day -1)</text>
<path d="M356.2 395.8h7.4" stroke="#2433d0" stroke-width="0.9"/>
<circle cx="359.9" cy="395.8" r="1.35" fill="#2433d0"/>
<text x="367.1" y="397.9" class="lg" textLength="65.3" lengthAdjust="spacingAndGlyphs">SCO-267 40 mg (Day 1)</text>
</g>
<g class="b">
<line x1="467.5" y1="298.4" x2="467.5" y2="361.3" class="dl"/>
<path d="M451.9 298.9V361.3H514.6" class="ax"/>
<path d="M450.1 361.3H451.9" class="ax"/>
<text x="450" y="363.45" class="tk" text-anchor="end">0</text>
<path d="M450.1 340.67H451.9" class="ax"/>
<text x="450" y="342.82" class="tk" text-anchor="end">20</text>
<path d="M450.1 320.03H451.9" class="ax"/>
<text x="450" y="322.18" class="tk" text-anchor="end">40</text>
<path d="M450.1 299.4H451.9" class="ax"/>
<text x="450" y="301.55" class="tk" text-anchor="end">60</text>
<path d="M451.9 361.3V363.2" class="ax"/>
<text x="451.9" y="370" class="tk" text-anchor="middle">-60</text>
<path d="M467.45 361.3V363.2" class="ax"/>
<text x="467.45" y="370" class="tk" text-anchor="middle">0</text>
<path d="M475.23 361.3V363.2" class="ax"/>
<text x="475.23" y="370" class="tk" text-anchor="middle">30</text>
<path d="M483 361.3V363.2" class="ax"/>
<text x="483" y="370" class="tk" text-anchor="middle">60</text>
<path d="M498.55 361.3V363.2" class="ax"/>
<text x="498.55" y="370" class="tk" text-anchor="middle">120</text>
<path d="M514.1 361.3V363.2" class="ax"/>
<text x="514.1" y="370" class="tk" text-anchor="middle">180</text>
<text x="483" y="377.1" class="tm" text-anchor="middle">Time (min)</text>
<text x="469.15" y="303.6" class="gl">Glucose</text>
<polygon points="469.35,309.8 469.95,306.8 470.65,305.4 471.95,305.2 473.15,306.2 472.65,307.4" class="ar"/>
<text x="453.9" y="330.4" class="gl">Drug</text>
<polygon points="453.7,334.9 454.3,331.9 455,330.5 456.3,330.3 457.5,331.3 457,332.5" class="ar"/>
<path d="M451.9 355.11V350.98M450.4 350.98h3M450.4 355.11h3" stroke="#4a4fb8" stroke-width="0.85" fill="none"/>
<path d="M467.45 343.97V331.59M465.95 331.59h3M465.95 343.97h3" stroke="#4a4fb8" stroke-width="0.85" fill="none"/>
<path d="M475.23 343.25V324.68M473.73 324.68h3M473.73 343.25h3" stroke="#4a4fb8" stroke-width="0.85" fill="none"/>
<path d="M483 345.1V307.96M481.5 307.96h3M481.5 345.1h3" stroke="#4a4fb8" stroke-width="0.85" fill="none"/>
<path d="M498.55 348.4V323.64M497.05 323.64h3M497.05 348.4h3" stroke="#4a4fb8" stroke-width="0.85" fill="none"/>
<path d="M514.1 346.34V326.74M512.6 326.74h3M512.6 346.34h3" stroke="#4a4fb8" stroke-width="0.85" fill="none"/>
<polyline points="451.9,353.05 467.45,337.78 475.23,333.96 483,326.53 498.55,336.02 514.1,336.54" fill="none" stroke="#2433d0" stroke-width="1.2" stroke-linejoin="round"/>
<circle cx="451.9" cy="353.05" r="1.35" fill="#2433d0"/>
<circle cx="467.45" cy="337.78" r="1.35" fill="#2433d0"/>
<circle cx="475.23" cy="333.96" r="1.35" fill="#2433d0"/>
<circle cx="483" cy="326.53" r="1.35" fill="#2433d0"/>
<circle cx="498.55" cy="336.02" r="1.35" fill="#2433d0"/>
<circle cx="514.1" cy="336.54" r="1.35" fill="#2433d0"/>
<path d="M451.9 356.14V352.01M450.4 352.01h3M450.4 356.14h3" stroke="#b83d66" stroke-width="0.85" fill="none"/>
<path d="M467.45 357.17V353.05M465.95 353.05h3M465.95 357.17h3" stroke="#b83d66" stroke-width="0.85" fill="none"/>
<path d="M475.23 358.2V352.01M473.73 352.01h3M473.73 358.2h3" stroke="#b83d66" stroke-width="0.85" fill="none"/>
<path d="M483 358.2V356.14M481.5 356.14h3M481.5 358.2h3" stroke="#b83d66" stroke-width="0.85" fill="none"/>
<path d="M498.55 360.27V358.2M497.05 358.2h3M497.05 360.27h3" stroke="#b83d66" stroke-width="0.85" fill="none"/>
<path d="M514.1 360.27V358.2M512.6 358.2h3M512.6 360.27h3" stroke="#b83d66" stroke-width="0.85" fill="none"/>
<polyline points="451.9,354.08 467.45,355.11 475.23,355.11 483,357.17 498.55,359.24 514.1,359.24" fill="none" stroke="#e0245a" stroke-width="1.2" stroke-linejoin="round"/>
<circle cx="451.9" cy="354.08" r="1.35" fill="#e0245a"/>
<circle cx="467.45" cy="355.11" r="1.35" fill="#e0245a"/>
<circle cx="475.23" cy="355.11" r="1.35" fill="#e0245a"/>
<circle cx="483" cy="357.17" r="1.35" fill="#e0245a"/>
<circle cx="498.55" cy="359.24" r="1.35" fill="#e0245a"/>
<circle cx="514.1" cy="359.24" r="1.35" fill="#e0245a"/>
<polygon points="471,329.4 471.64,331.12 473.47,331.2 472.04,332.34 472.53,334.1 471,333.09 469.47,334.1 469.96,332.34 468.53,331.2 470.36,331.12" fill="#2228a8"/>
<polygon points="478.72,323.93 479.37,325.65 481.2,325.73 479.76,326.87 480.25,328.64 478.72,327.62 477.2,328.64 477.69,326.87 476.25,325.73 478.08,325.65" fill="#2228a8"/>
<polygon points="487.15,321.35 487.79,323.07 489.62,323.15 488.19,324.29 488.67,326.06 487.15,325.05 485.62,326.06 486.11,324.29 484.67,323.15 486.5,323.07" fill="#2228a8"/>
<polygon points="502.7,327.65 503.34,329.36 505.17,329.44 503.74,330.58 504.22,332.35 502.7,331.34 501.17,332.35 501.66,330.58 500.22,329.44 502.05,329.36" fill="#2228a8"/>
<polygon points="518.25,329.81 518.89,331.53 520.72,331.61 519.29,332.75 519.77,334.52 518.25,333.51 516.72,334.52 517.21,332.75 515.77,331.61 517.6,331.53" fill="#2228a8"/>
<path d="M441.2 387.2h7.4" stroke="#e0245a" stroke-width="0.9"/>
<circle cx="444.9" cy="387.2" r="1.35" fill="#e0245a"/>
<text x="451.7" y="389.3" class="lg" textLength="46.8" lengthAdjust="spacingAndGlyphs">Baseline (Day -1)</text>
<path d="M441.2 395.8h7.4" stroke="#2433d0" stroke-width="0.9"/>
<circle cx="444.9" cy="395.8" r="1.35" fill="#2433d0"/>
<text x="451.7" y="397.9" class="lg" textLength="65.3" lengthAdjust="spacingAndGlyphs">SCO-267 80 mg (Day 1)</text>
</g>
</svg>
</body></html>
